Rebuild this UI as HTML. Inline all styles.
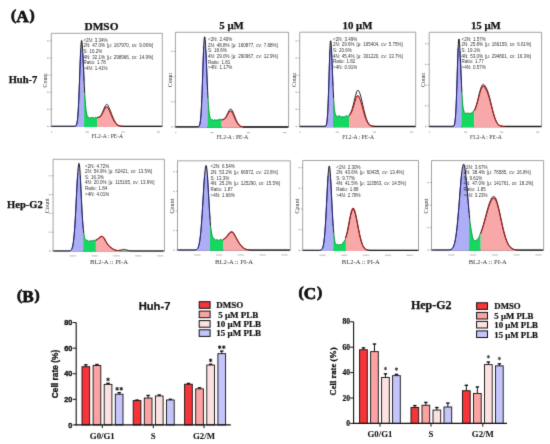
<!DOCTYPE html>
<html><head><meta charset="utf-8"><style>
html,body{margin:0;padding:0;background:#fff;}
svg{display:block;will-change:transform;}
</style></head><body>
<svg width="550" height="444" viewBox="0 0 550 444">
<defs><filter id="soft" filterUnits="userSpaceOnUse" x="0" y="0" width="550" height="444" color-interpolation-filters="sRGB"><feConvolveMatrix order="3" kernelMatrix="0.0113 0.0838 0.0113 0.0838 0.6193 0.0838 0.0113 0.0838 0.0113" edgeMode="duplicate"/></filter></defs>
<rect width="550" height="444" fill="#fff"/>
<g filter="url(#soft)">
<rect width="550" height="444" fill="#fff"/>
<text x="11.40" y="21.60" font-family="'Liberation Serif', serif" font-weight="bold" fill="#111" stroke="#111" stroke-width="0.75"><tspan font-size="15.5" dy="-1.9" dx="-0.5">(</tspan><tspan font-size="17.2" dy="1.9" dx="0.2">A</tspan><tspan font-size="15.5" dy="-1.9" dx="0.7">)</tspan></text>
<text x="101.50" y="29.90" font-family="'Liberation Serif', serif" font-size="11.3" font-weight="bold" text-anchor="middle" fill="#111" stroke="#111" stroke-width="0.25" >DMSO</text>
<text x="231.50" y="29.00" font-family="'Liberation Serif', serif" font-size="10.8" font-weight="bold" text-anchor="middle" fill="#111" stroke="#111" stroke-width="0.25" >5 μM</text>
<text x="357.50" y="29.00" font-family="'Liberation Serif', serif" font-size="10.8" font-weight="bold" text-anchor="middle" fill="#111" stroke="#111" stroke-width="0.25" >10 μM</text>
<text x="485.80" y="29.00" font-family="'Liberation Serif', serif" font-size="10.8" font-weight="bold" text-anchor="middle" fill="#111" stroke="#111" stroke-width="0.25" >15 μM</text>
<text x="8.70" y="83.10" font-family="'Liberation Serif', serif" font-size="10.5" font-weight="bold" text-anchor="start" fill="#111" stroke="#111" stroke-width="0.25" >Huh-7</text>
<text x="7.10" y="207.70" font-family="'Liberation Serif', serif" font-size="10.5" font-weight="bold" text-anchor="start" fill="#111" stroke="#111" stroke-width="0.25" >Hep-G2</text>
<path d="M51.3,126.4V33.3H162.3V126.4" fill="none" stroke="#9a9a9a" stroke-width="0.9"/>
<line x1="51.3" y1="126.4" x2="162.3" y2="126.4" stroke="#2a2a2a" stroke-width="1.3"/>
<path d="M52.30,126.40L52.70,126.40L53.11,126.40L53.51,126.40L53.91,126.40L54.31,126.40L54.72,126.40L55.12,126.40L55.52,126.40L55.92,126.40L56.33,126.40L56.73,126.40L57.13,126.40L57.53,126.40L57.94,126.40L58.34,126.40L58.74,126.40L59.14,126.40L59.55,126.40L59.95,126.40L60.35,126.40L60.75,126.40L61.16,126.40L61.56,126.40L61.96,126.40L62.36,126.40L62.77,126.40L63.17,126.40L63.57,126.40L63.97,126.40L64.38,126.40L64.78,126.40L65.18,126.40L65.58,126.40L65.99,126.40L66.39,126.40L66.79,126.40L67.19,126.40L67.60,126.40L68.00,126.40L68.40,126.40L68.80,126.40L69.21,126.40L69.61,126.40L70.01,126.40L70.41,126.40L70.82,126.40L71.22,126.40L71.62,126.40L72.02,126.40L72.43,126.40L72.83,126.40L73.23,126.40L73.63,126.39L74.04,126.39L74.44,126.36L74.84,126.31L75.24,126.21L75.65,125.99L76.05,125.57L76.45,124.79L76.85,123.46L77.26,121.28L77.66,117.92L78.06,113.03L78.46,106.36L78.87,97.81L79.27,87.60L79.67,76.30L80.07,64.84L80.48,54.41L80.88,46.26L81.28,41.44L81.68,40.49L82.09,42.68L82.49,47.54L82.89,54.52L83.29,63.00L83.70,72.20L84.10,81.22L84.10,127.10L52.30,127.10Z" fill="#aeaef6"/>
<path d="M84.10,81.22L84.50,89.30L84.91,96.18L85.31,102.15L85.71,106.86L86.12,110.47L86.52,113.10L86.92,115.03L87.32,116.45L87.73,117.19L88.13,117.10L88.53,116.93L88.94,117.85L89.34,118.71L89.74,118.37L90.15,117.82L90.55,117.59L90.95,117.54L91.36,117.53L91.76,117.60L92.16,117.62L92.57,117.42L92.97,117.21L93.37,117.49L93.78,117.81L94.18,117.92L94.58,117.95L94.98,117.79L95.39,117.41L95.79,117.22L96.19,117.67L96.60,118.11L97.00,117.68L97.00,127.10L84.10,127.10Z" fill="#14d862"/>
<path d="M97.00,117.84L97.40,117.78L97.80,117.70L98.19,117.60L98.59,117.47L98.99,117.30L99.39,117.08L99.78,116.82L100.18,116.50L100.58,116.11L100.98,115.66L101.37,115.14L101.77,114.54L102.17,113.87L102.57,113.14L102.96,112.36L103.36,111.54L103.76,110.70L104.16,109.88L104.55,109.10L104.95,108.38L105.35,107.77L105.75,107.29L106.14,106.98L106.54,106.84L106.94,106.89L107.34,107.14L107.73,107.58L108.13,108.19L108.53,108.89L108.93,109.68L109.32,110.52L109.72,111.41L110.12,112.33L110.52,113.26L110.92,114.19L111.31,115.11L111.71,116.02L112.11,116.91L112.51,117.77L112.90,118.60L113.30,119.40L113.70,120.15L114.10,120.87L114.49,121.53L114.89,122.15L115.29,122.72L115.69,123.23L116.08,123.70L116.48,124.11L116.88,124.47L117.28,124.79L117.67,125.07L118.07,125.31L118.47,125.51L118.87,125.68L119.26,125.82L119.66,125.94L120.06,126.04L120.46,126.12L120.85,126.18L121.25,126.23L121.65,126.27L121.65,127.10L97.00,127.10Z" fill="#f8a8a8"/>
<path d="M52.30,126.40L52.70,126.40L53.10,126.40L53.50,126.40L53.90,126.40L54.30,126.40L54.70,126.40L55.10,126.40L55.50,126.40L55.90,126.40L56.30,126.40L56.70,126.40L57.10,126.40L57.50,126.40L57.90,126.40L58.30,126.40L58.70,126.40L59.10,126.40L59.50,126.40L59.90,126.40L60.30,126.40L60.70,126.40L61.10,126.40L61.50,126.40L61.90,126.40L62.30,126.40L62.70,126.40L63.10,126.40L63.50,126.40L63.90,126.40L64.30,126.40L64.70,126.40L65.10,126.40L65.50,126.40L65.90,126.40L66.30,126.40L66.70,126.40L67.10,126.40L67.50,126.40L67.90,126.40L68.30,126.40L68.70,126.40L69.10,126.40L69.50,126.40L69.90,126.40L70.30,126.40L70.70,126.40L71.10,126.40L71.50,126.40L71.90,126.40L72.30,126.40L72.70,126.40L73.10,126.40L73.50,126.40L73.90,126.39L74.30,126.37L74.70,126.34L75.10,126.25L75.50,126.09L75.90,125.75L76.30,125.14L76.70,124.06L77.10,122.25L77.50,119.41L77.90,115.20L78.30,109.31L78.70,101.58L79.10,92.08L79.50,81.22L79.90,69.76L80.30,58.80L80.70,49.54L81.10,43.16L81.50,40.47L81.90,41.31L82.30,44.95L82.70,50.96L83.10,58.71L83.50,67.66L83.90,76.82L84.30,85.37L84.70,92.81" fill="none" stroke="#111" stroke-width="0.95"/>
<path d="M96.70,118.01L97.10,117.57L97.50,117.11L97.90,117.27L98.30,117.33L98.69,117.32L99.09,117.11L99.49,116.84L99.89,116.52L100.29,116.12L100.69,115.64L101.09,115.08L101.49,114.44L101.88,113.71L102.28,112.89L102.68,112.00L103.08,111.05L103.48,110.07L103.88,109.06L104.28,108.07L104.68,107.13L105.07,106.28L105.47,105.55L105.87,104.98L106.27,104.59L106.67,104.41L107.07,104.45L107.47,104.72L107.87,105.21L108.26,105.87L108.66,106.64L109.06,107.50L109.46,108.43L109.86,109.42L110.26,110.44L110.66,111.48L111.06,112.54L111.45,113.59L111.85,114.63L112.25,115.64L112.65,116.64L113.05,117.59L113.45,118.51L113.85,119.38L114.25,120.20L114.64,120.96L115.04,121.66L115.44,122.31L115.84,122.89L116.24,123.42L116.64,123.88L117.04,124.29L117.44,124.65L117.83,124.95L118.23,125.22L118.63,125.44L119.03,125.63L119.43,125.78L119.83,125.91L120.23,126.01L120.63,126.10L121.02,126.17L121.42,126.22L121.82,126.26L122.22,126.30L122.62,126.32L123.02,126.34L123.42,126.36L123.82,126.37L124.21,126.38L124.61,126.38L125.01,126.39L125.41,126.39L125.81,126.39L126.21,126.40L126.61,126.40L127.01,126.40L127.40,126.40L127.80,126.40L128.20,126.40L128.60,126.40L129.00,126.40L129.40,126.40L129.80,126.40L130.20,126.40L130.60,126.40L130.99,126.40L131.39,126.40L131.79,126.40L132.19,126.40L132.59,126.40L132.99,126.40L133.39,126.40L133.79,126.40L134.18,126.40L134.58,126.40L134.98,126.40L135.38,126.40L135.78,126.40L136.18,126.40L136.58,126.40L136.98,126.40L137.37,126.40L137.77,126.40L138.17,126.40L138.57,126.40L138.97,126.40L139.37,126.40L139.77,126.40L140.17,126.40L140.56,126.40L140.96,126.40L141.36,126.40L141.76,126.40L142.16,126.40L142.56,126.40L142.96,126.40L143.36,126.40L143.75,126.40L144.15,126.40L144.55,126.40L144.95,126.40L145.35,126.40L145.75,126.40L146.15,126.40L146.55,126.40L146.94,126.40L147.34,126.40L147.74,126.40L148.14,126.40L148.54,126.40L148.94,126.40L149.34,126.40L149.74,126.40L150.13,126.40L150.53,126.40L150.93,126.40L151.33,126.40L151.73,126.40L152.13,126.40L152.53,126.40L152.93,126.40L153.32,126.40L153.72,126.40L154.12,126.40L154.52,126.40L154.92,126.40L155.32,126.40L155.72,126.40L156.12,126.40L156.51,126.40L156.91,126.40L157.31,126.40L157.71,126.40L158.11,126.40L158.51,126.40L158.91,126.40L159.31,126.40L159.70,126.40L160.10,126.40L160.50,126.40L160.90,126.40L161.30,126.40" fill="none" stroke="#111" stroke-width="0.95"/>
<path d="M84.70,92.81L85.10,99.21L85.50,104.53L85.90,108.66L86.30,111.78L86.70,114.01L87.10,115.72L87.50,116.92L87.90,117.18L88.30,117.00L88.70,117.32L89.10,118.20L89.50,118.70L89.90,118.16L90.30,117.61L90.70,117.57L91.10,117.52L91.50,117.56L91.90,117.62L92.30,117.55L92.70,117.35L93.10,117.27L93.50,117.59L93.90,117.90L94.30,117.93L94.70,117.96L95.10,117.68L95.50,117.30L95.90,117.34L96.30,117.79L96.70,118.01" fill="none" stroke="#0b8a34" stroke-width="0.9"/>
<path d="M75.30,126.18L75.72,125.93L76.13,125.44L76.55,124.54L76.96,122.98L77.38,120.42L77.79,116.49L78.21,110.83L78.62,103.21L79.04,93.64L79.45,82.52L79.87,70.64L80.28,59.20L80.70,49.54" fill="none" stroke="#22229a" stroke-width="0.8"/>
<path d="M82.86,53.89L83.27,62.52L83.69,71.95L84.10,81.22" fill="none" stroke="#22229a" stroke-width="0.7"/>
<path d="M97.00,117.84L97.40,117.78L97.80,117.70L98.19,117.60L98.59,117.47L98.99,117.30L99.39,117.08L99.78,116.82L100.18,116.50L100.58,116.11L100.98,115.66L101.37,115.14L101.77,114.54L102.17,113.87L102.57,113.14L102.96,112.36L103.36,111.54L103.76,110.70L104.16,109.88L104.55,109.10L104.95,108.38L105.35,107.77L105.75,107.29L106.14,106.98L106.54,106.84L106.94,106.89L107.34,107.14L107.73,107.58L108.13,108.19L108.53,108.89L108.93,109.68L109.32,110.52L109.72,111.41L110.12,112.33L110.52,113.26L110.92,114.19L111.31,115.11L111.71,116.02L112.11,116.91L112.51,117.77L112.90,118.60L113.30,119.40L113.70,120.15L114.10,120.87L114.49,121.53L114.89,122.15L115.29,122.72L115.69,123.23L116.08,123.70L116.48,124.11L116.88,124.47L117.28,124.79L117.67,125.07L118.07,125.31L118.47,125.51L118.87,125.68L119.26,125.82L119.66,125.94L120.06,126.04L120.46,126.12L120.85,126.18L121.25,126.23L121.65,126.27" fill="none" stroke="#a01818" stroke-width="1.05"/>
<line x1="49.8" y1="126.40" x2="51.3" y2="126.40" stroke="#777" stroke-width="0.6"/>
<rect x="47.099999999999994" y="125.80" width="1.5" height="1.2" fill="#aaa"/>
<line x1="49.8" y1="109.30" x2="51.3" y2="109.30" stroke="#777" stroke-width="0.6"/>
<rect x="47.099999999999994" y="108.70" width="1.5" height="1.2" fill="#aaa"/>
<line x1="49.8" y1="92.20" x2="51.3" y2="92.20" stroke="#777" stroke-width="0.6"/>
<rect x="47.099999999999994" y="91.60" width="1.5" height="1.2" fill="#aaa"/>
<line x1="49.8" y1="75.10" x2="51.3" y2="75.10" stroke="#777" stroke-width="0.6"/>
<rect x="47.099999999999994" y="74.50" width="1.5" height="1.2" fill="#aaa"/>
<line x1="49.8" y1="58.00" x2="51.3" y2="58.00" stroke="#777" stroke-width="0.6"/>
<rect x="47.099999999999994" y="57.40" width="1.5" height="1.2" fill="#aaa"/>
<line x1="49.8" y1="40.90" x2="51.3" y2="40.90" stroke="#777" stroke-width="0.6"/>
<rect x="47.099999999999994" y="40.30" width="1.5" height="1.2" fill="#aaa"/>
<text x="0" y="0" transform="translate(47.40,80.25) rotate(-90)" font-family="'Liberation Serif', serif" font-size="5.85" text-anchor="middle" fill="#333">Count</text>
<rect x="50.90" y="131.40" width="1.4" height="1.2" fill="#bdbdbd"/>
<rect x="85.63" y="131.40" width="3.2" height="1.2" fill="#bdbdbd"/>
<rect x="121.26" y="131.40" width="3.2" height="1.2" fill="#bdbdbd"/>
<rect x="156.89" y="131.40" width="3.2" height="1.2" fill="#bdbdbd"/>
<text x="107.30" y="138.40" font-family="'Liberation Serif', serif" font-size="5.6" text-anchor="middle" fill="#333">FL2-A : PE-A</text>
<text transform="translate(83.40,41.60) scale(1.0)" font-family="'Liberation Sans', sans-serif" font-size="4.50" word-spacing="0.50" fill="#333">&lt;2N: 3.34%</text>
<text transform="translate(83.40,47.25) scale(1.0)" font-family="'Liberation Sans', sans-serif" font-size="4.50" word-spacing="0.50" fill="#333">2N: 47.0%</text>
<text transform="translate(83.40,52.90) scale(1.0)" font-family="'Liberation Sans', sans-serif" font-size="4.50" word-spacing="0.50" fill="#333">S: 16.2%</text>
<text transform="translate(83.40,58.55) scale(1.0)" font-family="'Liberation Sans', sans-serif" font-size="4.50" word-spacing="0.50" fill="#333">4N: 32.1%</text>
<text transform="translate(83.40,64.20) scale(1.0)" font-family="'Liberation Sans', sans-serif" font-size="4.50" word-spacing="0.50" fill="#333">Ratio: 1.78</text>
<text transform="translate(83.40,69.85) scale(1.0)" font-family="'Liberation Sans', sans-serif" font-size="4.50" word-spacing="0.50" fill="#333">&gt;4N: 1.41%</text>
<text transform="translate(106.90,47.25) scale(1.0)" font-family="'Liberation Sans', sans-serif" font-size="4.50" word-spacing="0.50" fill="#333">[μ: 167970, cv: 9.06%]</text>
<text transform="translate(106.90,58.55) scale(1.0)" font-family="'Liberation Sans', sans-serif" font-size="4.50" word-spacing="0.50" fill="#333">[μ: 298966, cv: 14.9%]</text>
<path d="M175.4,127.0V32.3H288.6V127.0" fill="none" stroke="#9a9a9a" stroke-width="0.9"/>
<line x1="175.4" y1="127.0" x2="288.6" y2="127.0" stroke="#2a2a2a" stroke-width="1.3"/>
<path d="M176.40,127.00L176.80,127.00L177.19,127.00L177.59,127.00L177.99,127.00L178.39,127.00L178.78,127.00L179.18,127.00L179.58,127.00L179.98,127.00L180.37,127.00L180.77,127.00L181.17,127.00L181.57,127.00L181.96,127.00L182.36,127.00L182.76,127.00L183.16,127.00L183.55,127.00L183.95,127.00L184.35,127.00L184.75,127.00L185.14,127.00L185.54,127.00L185.94,127.00L186.34,127.00L186.73,127.00L187.13,127.00L187.53,127.00L187.93,127.00L188.32,127.00L188.72,127.00L189.12,127.00L189.52,127.00L189.91,127.00L190.31,127.00L190.71,127.00L191.11,127.00L191.50,127.00L191.90,127.00L192.30,127.00L192.69,127.00L193.09,127.00L193.49,127.00L193.89,127.00L194.28,127.00L194.68,127.00L195.08,127.00L195.48,127.00L195.87,127.00L196.27,127.00L196.67,126.99L197.07,126.98L197.46,126.96L197.86,126.91L198.26,126.81L198.66,126.59L199.05,126.17L199.45,125.41L199.85,124.09L200.25,121.95L200.64,118.62L201.04,113.78L201.44,107.13L201.84,98.55L202.23,88.20L202.63,76.59L203.03,64.60L203.43,53.41L203.82,44.30L204.22,38.41L204.62,36.50L205.02,38.09L205.41,42.55L205.81,49.40L206.21,57.94L206.61,67.45L207.00,77.20L207.40,86.41L207.40,127.70L176.40,127.70Z" fill="#aeaef6"/>
<path d="M207.40,86.41L207.81,94.59L208.21,101.34L208.62,107.27L209.02,111.87L209.43,114.86L209.83,116.80L210.24,118.08L210.65,118.87L211.05,119.33L211.46,119.59L211.86,119.71L212.27,119.77L212.67,119.78L213.08,120.19L213.49,120.62L213.89,120.35L214.30,119.82L214.70,119.67L215.11,119.91L215.51,120.07L215.92,120.04L216.33,120.02L216.73,120.01L217.14,120.00L217.54,120.02L217.95,120.04L218.35,119.88L218.76,119.61L219.17,119.42L219.57,119.33L219.98,119.25L220.38,119.21L220.79,119.16L221.19,119.59L221.60,120.02L221.60,127.70L207.40,127.70Z" fill="#14d862"/>
<path d="M221.60,119.86L222.00,119.80L222.40,119.72L222.80,119.62L223.20,119.48L223.60,119.31L224.00,119.09L224.41,118.83L224.81,118.50L225.21,118.11L225.61,117.66L226.01,117.13L226.41,116.55L226.81,115.90L227.21,115.21L227.61,114.50L228.01,113.78L228.41,113.08L228.81,112.43L229.21,111.87L229.61,111.43L230.02,111.12L230.42,110.98L230.82,111.02L231.22,111.24L231.62,111.63L232.02,112.19L232.42,112.86L232.82,113.62L233.22,114.46L233.62,115.34L234.02,116.25L234.42,117.17L234.82,118.09L235.23,118.99L235.63,119.86L236.03,120.69L236.43,121.47L236.83,122.21L237.23,122.88L237.63,123.50L238.03,124.05L238.43,124.54L238.83,124.98L239.23,125.35L239.63,125.67L240.03,125.94L240.43,126.16L240.84,126.35L241.24,126.50L241.64,126.61L242.04,126.71L242.44,126.78L242.84,126.84L243.24,126.88L243.24,127.70L221.60,127.70Z" fill="#f8a8a8"/>
<path d="M176.40,127.00L176.80,127.00L177.20,127.00L177.60,127.00L178.00,127.00L178.40,127.00L178.80,127.00L179.20,127.00L179.60,127.00L180.00,127.00L180.40,127.00L180.80,127.00L181.20,127.00L181.60,127.00L182.00,127.00L182.40,127.00L182.80,127.00L183.20,127.00L183.60,127.00L184.00,127.00L184.40,127.00L184.80,127.00L185.20,127.00L185.60,127.00L186.00,127.00L186.40,127.00L186.80,127.00L187.20,127.00L187.60,127.00L188.00,127.00L188.40,127.00L188.80,127.00L189.20,127.00L189.60,127.00L190.00,127.00L190.40,127.00L190.80,127.00L191.20,127.00L191.60,127.00L192.00,127.00L192.40,127.00L192.80,127.00L193.20,127.00L193.60,127.00L194.00,127.00L194.40,127.00L194.80,127.00L195.20,127.00L195.60,127.00L196.00,127.00L196.40,127.00L196.80,126.99L197.20,126.98L197.60,126.95L198.00,126.88L198.40,126.74L198.80,126.47L199.20,125.94L199.60,125.00L200.00,123.39L200.40,120.82L200.80,116.92L201.20,111.35L201.60,103.88L202.00,94.47L202.40,83.44L202.80,71.47L203.20,59.59L203.60,49.08L204.00,41.22L204.40,37.03L204.80,36.85L205.20,39.83L205.60,45.52L206.00,53.31L206.40,62.44L206.80,72.26L207.20,81.89L207.60,90.61L208.00,97.99" fill="none" stroke="#111" stroke-width="0.95"/>
<path d="M221.30,119.71L221.70,120.12L222.10,119.90L222.50,119.65L222.90,119.49L223.30,119.33L223.70,119.13L224.10,118.87L224.50,118.54L224.89,118.14L225.29,117.67L225.69,117.11L226.09,116.48L226.49,115.77L226.89,115.00L227.29,114.18L227.69,113.32L228.09,112.46L228.49,111.62L228.89,110.85L229.29,110.17L229.69,109.62L230.09,109.23L230.49,109.03L230.89,109.02L231.28,109.23L231.68,109.64L232.08,110.22L232.48,110.94L232.88,111.77L233.28,112.68L233.68,113.66L234.08,114.68L234.48,115.71L234.88,116.75L235.28,117.77L235.68,118.77L236.08,119.72L236.48,120.62L236.88,121.47L237.28,122.25L237.68,122.96L238.07,123.60L238.47,124.17L238.87,124.67L239.27,125.10L239.67,125.47L240.07,125.78L240.47,126.04L240.87,126.25L241.27,126.42L241.67,126.56L242.07,126.67L242.47,126.75L242.87,126.82L243.27,126.87L243.67,126.90L244.07,126.93L244.47,126.95L244.86,126.97L245.26,126.98L245.66,126.98L246.06,126.99L246.46,126.99L246.86,127.00L247.26,127.00L247.66,127.00L248.06,127.00L248.46,127.00L248.86,127.00L249.26,127.00L249.66,127.00L250.06,127.00L250.46,127.00L250.86,127.00L251.25,127.00L251.65,127.00L252.05,127.00L252.45,127.00L252.85,127.00L253.25,127.00L253.65,127.00L254.05,127.00L254.45,127.00L254.85,127.00L255.25,127.00L255.65,127.00L256.05,127.00L256.45,127.00L256.85,127.00L257.25,127.00L257.65,127.00L258.04,127.00L258.44,127.00L258.84,127.00L259.24,127.00L259.64,127.00L260.04,127.00L260.44,127.00L260.84,127.00L261.24,127.00L261.64,127.00L262.04,127.00L262.44,127.00L262.84,127.00L263.24,127.00L263.64,127.00L264.04,127.00L264.43,127.00L264.83,127.00L265.23,127.00L265.63,127.00L266.03,127.00L266.43,127.00L266.83,127.00L267.23,127.00L267.63,127.00L268.03,127.00L268.43,127.00L268.83,127.00L269.23,127.00L269.63,127.00L270.03,127.00L270.43,127.00L270.83,127.00L271.22,127.00L271.62,127.00L272.02,127.00L272.42,127.00L272.82,127.00L273.22,127.00L273.62,127.00L274.02,127.00L274.42,127.00L274.82,127.00L275.22,127.00L275.62,127.00L276.02,127.00L276.42,127.00L276.82,127.00L277.22,127.00L277.62,127.00L278.01,127.00L278.41,127.00L278.81,127.00L279.21,127.00L279.61,127.00L280.01,127.00L280.41,127.00L280.81,127.00L281.21,127.00L281.61,127.00L282.01,127.00L282.41,127.00L282.81,127.00L283.21,127.00L283.61,127.00L284.01,127.00L284.40,127.00L284.80,127.00L285.20,127.00L285.60,127.00L286.00,127.00L286.40,127.00L286.80,127.00L287.20,127.00L287.60,127.00" fill="none" stroke="#111" stroke-width="0.95"/>
<path d="M208.00,97.99L208.40,104.31L208.81,109.57L209.21,113.43L209.61,115.84L210.02,117.43L210.42,118.48L210.82,119.09L211.22,119.46L211.63,119.65L212.03,119.74L212.43,119.78L212.84,119.93L213.24,120.36L213.64,120.68L214.05,120.15L214.45,119.62L214.85,119.76L215.25,119.99L215.66,120.06L216.06,120.04L216.46,120.02L216.87,120.01L217.27,120.00L217.67,120.02L218.08,120.04L218.48,119.80L218.88,119.53L219.28,119.39L219.69,119.31L220.09,119.24L220.49,119.20L220.90,119.27L221.30,119.71" fill="none" stroke="#0b8a34" stroke-width="0.9"/>
<path d="M198.40,126.74L198.81,126.46L199.22,125.91L199.62,124.92L200.03,123.23L200.44,120.51L200.85,116.37L201.25,110.46L201.66,102.55L202.07,92.66L202.48,81.18L202.88,68.91L203.29,57.00L203.70,46.82" fill="none" stroke="#22229a" stroke-width="0.8"/>
<path d="M205.86,50.39L206.25,58.80L206.63,68.07L207.01,77.50L207.40,86.41" fill="none" stroke="#22229a" stroke-width="0.7"/>
<path d="M221.60,119.86L222.00,119.80L222.40,119.72L222.80,119.62L223.20,119.48L223.60,119.31L224.00,119.09L224.41,118.83L224.81,118.50L225.21,118.11L225.61,117.66L226.01,117.13L226.41,116.55L226.81,115.90L227.21,115.21L227.61,114.50L228.01,113.78L228.41,113.08L228.81,112.43L229.21,111.87L229.61,111.43L230.02,111.12L230.42,110.98L230.82,111.02L231.22,111.24L231.62,111.63L232.02,112.19L232.42,112.86L232.82,113.62L233.22,114.46L233.62,115.34L234.02,116.25L234.42,117.17L234.82,118.09L235.23,118.99L235.63,119.86L236.03,120.69L236.43,121.47L236.83,122.21L237.23,122.88L237.63,123.50L238.03,124.05L238.43,124.54L238.83,124.98L239.23,125.35L239.63,125.67L240.03,125.94L240.43,126.16L240.84,126.35L241.24,126.50L241.64,126.61L242.04,126.71L242.44,126.78L242.84,126.84L243.24,126.88" fill="none" stroke="#a01818" stroke-width="1.05"/>
<line x1="173.9" y1="127.00" x2="175.4" y2="127.00" stroke="#777" stroke-width="0.6"/>
<rect x="171.20000000000002" y="126.40" width="1.5" height="1.2" fill="#aaa"/>
<line x1="173.9" y1="101.80" x2="175.4" y2="101.80" stroke="#777" stroke-width="0.6"/>
<rect x="171.20000000000002" y="101.20" width="1.5" height="1.2" fill="#aaa"/>
<line x1="173.9" y1="76.60" x2="175.4" y2="76.60" stroke="#777" stroke-width="0.6"/>
<rect x="171.20000000000002" y="76.00" width="1.5" height="1.2" fill="#aaa"/>
<line x1="173.9" y1="51.40" x2="175.4" y2="51.40" stroke="#777" stroke-width="0.6"/>
<rect x="171.20000000000002" y="50.80" width="1.5" height="1.2" fill="#aaa"/>
<text x="0" y="0" transform="translate(171.50,80.05) rotate(-90)" font-family="'Liberation Serif', serif" font-size="5.85" text-anchor="middle" fill="#333">Count</text>
<rect x="175.00" y="132.00" width="1.4" height="1.2" fill="#bdbdbd"/>
<rect x="210.44" y="132.00" width="3.2" height="1.2" fill="#bdbdbd"/>
<rect x="246.77" y="132.00" width="3.2" height="1.2" fill="#bdbdbd"/>
<rect x="283.11" y="132.00" width="3.2" height="1.2" fill="#bdbdbd"/>
<text x="232.50" y="139.00" font-family="'Liberation Serif', serif" font-size="5.6" text-anchor="middle" fill="#333">FL2-A : PE-A</text>
<text transform="translate(208.00,40.90) scale(1.0)" font-family="'Liberation Sans', sans-serif" font-size="4.50" word-spacing="0.50" fill="#333">&lt;2N: 2.40%</text>
<text transform="translate(208.00,46.55) scale(1.0)" font-family="'Liberation Sans', sans-serif" font-size="4.50" word-spacing="0.50" fill="#333">2N: 48.8%</text>
<text transform="translate(208.00,52.20) scale(1.0)" font-family="'Liberation Sans', sans-serif" font-size="4.50" word-spacing="0.50" fill="#333">S: 18.6%</text>
<text transform="translate(208.00,57.85) scale(1.0)" font-family="'Liberation Sans', sans-serif" font-size="4.50" word-spacing="0.50" fill="#333">4N: 29.0%</text>
<text transform="translate(208.00,63.50) scale(1.0)" font-family="'Liberation Sans', sans-serif" font-size="4.50" word-spacing="0.50" fill="#333">Ratio: 1.81</text>
<text transform="translate(208.00,69.15) scale(1.0)" font-family="'Liberation Sans', sans-serif" font-size="4.50" word-spacing="0.50" fill="#333">&gt;4N: 1.17%</text>
<text transform="translate(231.50,46.55) scale(1.0)" font-family="'Liberation Sans', sans-serif" font-size="4.50" word-spacing="0.50" fill="#333">[μ: 160877, cv: 7.88%]</text>
<text transform="translate(231.50,57.85) scale(1.0)" font-family="'Liberation Sans', sans-serif" font-size="4.50" word-spacing="0.50" fill="#333">[μ: 290967, cv: 12.9%]</text>
<path d="M299.7,126.5V32.2H415.7V126.5" fill="none" stroke="#9a9a9a" stroke-width="0.9"/>
<line x1="299.7" y1="126.5" x2="415.7" y2="126.5" stroke="#2a2a2a" stroke-width="1.3"/>
<path d="M300.70,126.50L301.10,126.50L301.50,126.50L301.90,126.50L302.30,126.50L302.69,126.50L303.09,126.50L303.49,126.50L303.89,126.50L304.29,126.50L304.69,126.50L305.09,126.50L305.49,126.50L305.88,126.50L306.28,126.50L306.68,126.50L307.08,126.50L307.48,126.50L307.88,126.50L308.28,126.50L308.68,126.50L309.07,126.50L309.47,126.50L309.87,126.50L310.27,126.50L310.67,126.50L311.07,126.50L311.47,126.50L311.87,126.50L312.26,126.50L312.66,126.50L313.06,126.50L313.46,126.50L313.86,126.50L314.26,126.50L314.66,126.50L315.06,126.50L315.45,126.50L315.85,126.50L316.25,126.50L316.65,126.50L317.05,126.50L317.45,126.50L317.85,126.50L318.25,126.50L318.64,126.50L319.04,126.50L319.44,126.50L319.84,126.50L320.24,126.50L320.64,126.50L321.04,126.50L321.44,126.50L321.83,126.50L322.23,126.50L322.63,126.50L323.03,126.50L323.43,126.50L323.83,126.50L324.23,126.49L324.63,126.47L325.02,126.41L325.42,126.26L325.82,125.92L326.22,125.21L326.62,123.82L327.02,121.30L327.42,117.09L327.82,110.64L328.21,101.58L328.61,90.01L329.01,76.70L329.41,63.14L329.81,51.30L330.21,43.24L330.61,40.40L331.01,42.18L331.40,47.54L331.80,55.69L332.20,65.59L332.60,76.05L333.00,85.93L333.00,127.20L300.70,127.20Z" fill="#aeaef6"/>
<path d="M333.00,85.93L333.40,94.59L333.80,101.54L334.20,106.77L334.60,110.48L335.00,112.83L335.40,114.21L335.80,115.10L336.20,115.73L336.60,116.12L337.00,116.46L337.40,116.71L337.80,116.39L338.20,116.04L338.60,115.95L339.00,115.95L339.40,116.05L339.80,116.26L340.20,116.40L340.60,116.37L341.00,116.34L341.40,116.91L341.80,117.48L342.20,117.11L342.60,116.44L343.00,116.40L343.40,116.99L343.80,117.34L344.20,116.97L344.60,116.60L345.00,116.42L345.40,116.22L345.80,116.03L346.20,115.84L346.60,115.84L347.00,116.01L347.40,116.17L347.80,116.33L348.20,116.45L348.60,116.13L349.00,115.75L349.00,127.20L333.00,127.20Z" fill="#14d862"/>
<path d="M349.00,115.52L349.40,115.17L349.81,114.74L350.21,114.24L350.61,113.64L351.01,112.94L351.42,112.14L351.82,111.23L352.22,110.21L352.63,109.09L353.03,107.88L353.43,106.58L353.84,105.23L354.24,103.85L354.64,102.46L355.05,101.11L355.45,99.83L355.85,98.66L356.25,97.65L356.66,96.81L357.06,96.20L357.46,95.83L357.87,95.72L358.27,95.87L358.67,96.30L359.07,96.96L359.48,97.81L359.88,98.81L360.28,99.96L360.69,101.22L361.09,102.57L361.49,103.98L361.90,105.45L362.30,106.94L362.70,108.44L363.11,109.93L363.51,111.39L363.91,112.82L364.31,114.19L364.72,115.50L365.12,116.74L365.52,117.90L365.93,118.98L366.33,119.97L366.73,120.87L367.13,121.69L367.54,122.41L367.94,123.06L368.34,123.62L368.75,124.11L369.15,124.53L369.55,124.89L369.96,125.20L370.36,125.45L370.76,125.66L371.17,125.84L371.57,125.98L371.97,126.09L372.37,126.18L372.78,126.26L373.18,126.31L373.18,127.20L349.00,127.20Z" fill="#f8a8a8"/>
<path d="M300.70,126.50L301.10,126.50L301.50,126.50L301.90,126.50L302.30,126.50L302.71,126.50L303.11,126.50L303.51,126.50L303.91,126.50L304.31,126.50L304.71,126.50L305.11,126.50L305.51,126.50L305.92,126.50L306.32,126.50L306.72,126.50L307.12,126.50L307.52,126.50L307.92,126.50L308.32,126.50L308.72,126.50L309.13,126.50L309.53,126.50L309.93,126.50L310.33,126.50L310.73,126.50L311.13,126.50L311.53,126.50L311.93,126.50L312.34,126.50L312.74,126.50L313.14,126.50L313.54,126.50L313.94,126.50L314.34,126.50L314.74,126.50L315.14,126.50L315.55,126.50L315.95,126.50L316.35,126.50L316.75,126.50L317.15,126.50L317.55,126.50L317.95,126.50L318.35,126.50L318.75,126.50L319.16,126.50L319.56,126.50L319.96,126.50L320.36,126.50L320.76,126.50L321.16,126.50L321.56,126.50L321.96,126.50L322.37,126.50L322.77,126.50L323.17,126.50L323.57,126.50L323.97,126.49L324.37,126.48L324.77,126.45L325.17,126.37L325.58,126.16L325.98,125.71L326.38,124.77L326.78,122.98L327.18,119.82L327.58,114.73L327.98,107.17L328.38,96.95L328.79,84.42L329.19,70.70L329.59,57.55L329.99,47.11L330.39,41.24L330.79,40.74L331.19,44.28L331.59,51.12L332.00,60.26L332.40,70.69L332.80,81.03L333.20,90.42L333.60,98.28" fill="none" stroke="#111" stroke-width="0.95"/>
<path d="M348.70,116.04L349.10,115.65L349.50,115.07L349.90,114.34L350.30,113.71L350.70,112.91L351.10,111.90L351.50,110.90L351.90,109.77L352.30,108.50L352.70,107.12L353.10,105.62L353.50,104.03L353.90,102.37L354.30,100.67L354.70,98.96L355.10,97.29L355.50,95.70L355.90,94.24L356.30,92.96L356.70,91.89L357.10,91.07L357.50,90.54L357.90,90.31L358.30,90.40L358.70,90.80L359.10,91.49L359.50,92.39L359.90,93.50L360.30,94.77L360.70,96.19L361.10,97.74L361.50,99.37L361.90,101.08L362.30,102.83L362.70,104.59L363.10,106.36L363.50,108.11L363.90,109.81L364.30,111.46L364.70,113.04L365.10,114.54L365.50,115.95L365.90,117.25L366.30,118.46L366.70,119.56L367.10,120.55L367.50,121.44L367.90,122.23L368.30,122.92L368.70,123.52L369.10,124.04L369.50,124.48L369.90,124.86L370.30,125.18L370.70,125.44L371.10,125.66L371.50,125.84L371.90,125.98L372.30,126.10L372.70,126.19L373.10,126.26L373.50,126.32L373.90,126.36L374.30,126.40L374.70,126.42L375.10,126.44L375.50,126.46L375.90,126.47L376.30,126.48L376.70,126.48L377.10,126.49L377.50,126.49L377.90,126.49L378.30,126.50L378.70,126.50L379.10,126.50L379.50,126.50L379.90,126.50L380.30,126.50L380.70,126.50L381.10,126.50L381.50,126.50L381.90,126.50L382.30,126.50L382.70,126.50L383.10,126.50L383.50,126.50L383.90,126.50L384.30,126.50L384.70,126.50L385.10,126.50L385.50,126.50L385.90,126.50L386.30,126.50L386.70,126.50L387.10,126.50L387.50,126.50L387.90,126.50L388.30,126.50L388.70,126.50L389.10,126.50L389.50,126.50L389.90,126.50L390.30,126.50L390.70,126.50L391.10,126.50L391.50,126.50L391.90,126.50L392.30,126.50L392.70,126.50L393.10,126.50L393.50,126.50L393.90,126.50L394.30,126.50L394.70,126.50L395.10,126.50L395.50,126.50L395.90,126.50L396.30,126.50L396.70,126.50L397.10,126.50L397.50,126.50L397.90,126.50L398.30,126.50L398.70,126.50L399.10,126.50L399.50,126.50L399.90,126.50L400.30,126.50L400.70,126.50L401.10,126.50L401.50,126.50L401.90,126.50L402.30,126.50L402.70,126.50L403.10,126.50L403.50,126.50L403.90,126.50L404.30,126.50L404.70,126.50L405.10,126.50L405.50,126.50L405.90,126.50L406.30,126.50L406.70,126.50L407.10,126.50L407.50,126.50L407.90,126.50L408.30,126.50L408.70,126.50L409.10,126.50L409.50,126.50L409.90,126.50L410.30,126.50L410.70,126.50L411.10,126.50L411.50,126.50L411.90,126.50L412.30,126.50L412.70,126.50L413.10,126.50L413.50,126.50L413.90,126.50L414.30,126.50L414.70,126.50" fill="none" stroke="#111" stroke-width="0.95"/>
<path d="M333.60,98.28L334.00,104.32L334.39,108.75L334.79,111.77L335.19,113.58L335.59,114.61L335.98,115.43L336.38,115.92L336.78,116.29L337.18,116.58L337.57,116.57L337.97,116.24L338.37,115.95L338.77,115.95L339.16,115.95L339.56,116.13L339.96,116.34L340.36,116.39L340.75,116.36L341.15,116.55L341.55,117.12L341.94,117.55L342.34,116.87L342.74,116.20L343.14,116.60L343.53,117.19L343.93,117.22L344.33,116.85L344.73,116.54L345.12,116.36L345.52,116.16L345.92,115.98L346.32,115.78L346.71,115.89L347.11,116.06L347.51,116.22L347.91,116.37L348.30,116.37L348.70,116.04" fill="none" stroke="#0b8a34" stroke-width="0.9"/>
<path d="M325.30,126.32L325.71,126.04L326.13,125.43L326.54,124.17L326.95,121.80L327.37,117.72L327.78,111.29L328.20,102.08L328.61,90.16L329.02,76.34L329.44,62.31L329.85,50.29" fill="none" stroke="#22229a" stroke-width="0.8"/>
<path d="M331.68,52.93L332.12,63.45L332.56,74.98L333.00,85.93" fill="none" stroke="#22229a" stroke-width="0.7"/>
<path d="M349.00,115.52L349.40,115.17L349.81,114.74L350.21,114.24L350.61,113.64L351.01,112.94L351.42,112.14L351.82,111.23L352.22,110.21L352.63,109.09L353.03,107.88L353.43,106.58L353.84,105.23L354.24,103.85L354.64,102.46L355.05,101.11L355.45,99.83L355.85,98.66L356.25,97.65L356.66,96.81L357.06,96.20L357.46,95.83L357.87,95.72L358.27,95.87L358.67,96.30L359.07,96.96L359.48,97.81L359.88,98.81L360.28,99.96L360.69,101.22L361.09,102.57L361.49,103.98L361.90,105.45L362.30,106.94L362.70,108.44L363.11,109.93L363.51,111.39L363.91,112.82L364.31,114.19L364.72,115.50L365.12,116.74L365.52,117.90L365.93,118.98L366.33,119.97L366.73,120.87L367.13,121.69L367.54,122.41L367.94,123.06L368.34,123.62L368.75,124.11L369.15,124.53L369.55,124.89L369.96,125.20L370.36,125.45L370.76,125.66L371.17,125.84L371.57,125.98L371.97,126.09L372.37,126.18L372.78,126.26L373.18,126.31" fill="none" stroke="#a01818" stroke-width="1.05"/>
<line x1="298.2" y1="126.50" x2="299.7" y2="126.50" stroke="#777" stroke-width="0.6"/>
<rect x="295.5" y="125.90" width="1.5" height="1.2" fill="#aaa"/>
<line x1="298.2" y1="109.40" x2="299.7" y2="109.40" stroke="#777" stroke-width="0.6"/>
<rect x="295.5" y="108.80" width="1.5" height="1.2" fill="#aaa"/>
<line x1="298.2" y1="92.30" x2="299.7" y2="92.30" stroke="#777" stroke-width="0.6"/>
<rect x="295.5" y="91.70" width="1.5" height="1.2" fill="#aaa"/>
<line x1="298.2" y1="75.20" x2="299.7" y2="75.20" stroke="#777" stroke-width="0.6"/>
<rect x="295.5" y="74.60" width="1.5" height="1.2" fill="#aaa"/>
<line x1="298.2" y1="58.10" x2="299.7" y2="58.10" stroke="#777" stroke-width="0.6"/>
<rect x="295.5" y="57.50" width="1.5" height="1.2" fill="#aaa"/>
<line x1="298.2" y1="41.00" x2="299.7" y2="41.00" stroke="#777" stroke-width="0.6"/>
<rect x="295.5" y="40.40" width="1.5" height="1.2" fill="#aaa"/>
<text x="0" y="0" transform="translate(295.80,79.75) rotate(-90)" font-family="'Liberation Serif', serif" font-size="5.85" text-anchor="middle" fill="#333">Count</text>
<rect x="299.30" y="131.50" width="1.4" height="1.2" fill="#bdbdbd"/>
<rect x="335.64" y="131.50" width="3.2" height="1.2" fill="#bdbdbd"/>
<rect x="372.87" y="131.50" width="3.2" height="1.2" fill="#bdbdbd"/>
<rect x="410.11" y="131.50" width="3.2" height="1.2" fill="#bdbdbd"/>
<text x="358.20" y="138.50" font-family="'Liberation Serif', serif" font-size="5.6" text-anchor="middle" fill="#333">FL2-A : PE-A</text>
<text transform="translate(333.00,40.60) scale(1.0)" font-family="'Liberation Sans', sans-serif" font-size="4.50" word-spacing="0.50" fill="#333">&lt;2N: 3.49%</text>
<text transform="translate(333.00,46.25) scale(1.0)" font-family="'Liberation Sans', sans-serif" font-size="4.50" word-spacing="0.50" fill="#333">2N: 29.6%</text>
<text transform="translate(333.00,51.90) scale(1.0)" font-family="'Liberation Sans', sans-serif" font-size="4.50" word-spacing="0.50" fill="#333">S: 20.6%</text>
<text transform="translate(333.00,57.55) scale(1.0)" font-family="'Liberation Sans', sans-serif" font-size="4.50" word-spacing="0.50" fill="#333">4N: 45.4%</text>
<text transform="translate(333.00,63.20) scale(1.0)" font-family="'Liberation Sans', sans-serif" font-size="4.50" word-spacing="0.50" fill="#333">Ratio: 1.82</text>
<text transform="translate(333.00,68.85) scale(1.0)" font-family="'Liberation Sans', sans-serif" font-size="4.50" word-spacing="0.50" fill="#333">&gt;4N: 0.91%</text>
<text transform="translate(356.50,46.25) scale(1.0)" font-family="'Liberation Sans', sans-serif" font-size="4.50" word-spacing="0.50" fill="#333">[μ: 165404, cv: 5.75%]</text>
<text transform="translate(356.50,57.55) scale(1.0)" font-family="'Liberation Sans', sans-serif" font-size="4.50" word-spacing="0.50" fill="#333">[μ: 301220, cv: 13.7%]</text>
<path d="M429.2,126.5V32.3H541.6V126.5" fill="none" stroke="#9a9a9a" stroke-width="0.9"/>
<line x1="429.2" y1="126.5" x2="541.6" y2="126.5" stroke="#2a2a2a" stroke-width="1.3"/>
<path d="M430.20,126.50L430.60,126.50L431.00,126.50L431.40,126.50L431.79,126.50L432.19,126.50L432.59,126.50L432.99,126.50L433.39,126.50L433.79,126.50L434.19,126.50L434.59,126.50L434.98,126.50L435.38,126.50L435.78,126.50L436.18,126.50L436.58,126.50L436.98,126.50L437.38,126.50L437.78,126.50L438.17,126.50L438.57,126.50L438.97,126.50L439.37,126.50L439.77,126.50L440.17,126.50L440.57,126.50L440.97,126.50L441.36,126.50L441.76,126.50L442.16,126.50L442.56,126.50L442.96,126.50L443.36,126.50L443.76,126.50L444.16,126.50L444.55,126.50L444.95,126.50L445.35,126.50L445.75,126.50L446.15,126.50L446.55,126.50L446.95,126.50L447.34,126.50L447.74,126.50L448.14,126.50L448.54,126.50L448.94,126.50L449.34,126.50L449.74,126.50L450.14,126.50L450.53,126.50L450.93,126.50L451.33,126.50L451.73,126.50L452.13,126.49L452.53,126.46L452.93,126.40L453.33,126.26L453.72,125.96L454.12,125.35L454.52,124.18L454.92,122.11L455.32,118.68L455.72,113.41L456.12,105.91L456.52,96.06L456.91,84.19L457.31,71.21L457.71,58.53L458.11,47.87L458.51,40.88L458.91,38.60L459.31,40.31L459.71,45.23L460.10,52.66L460.50,61.59L460.90,71.00L461.30,80.12L461.30,127.20L430.20,127.20Z" fill="#aeaef6"/>
<path d="M461.30,80.12L461.70,88.51L462.11,95.68L462.51,101.75L462.91,106.40L463.32,109.10L463.72,110.64L464.12,111.74L464.52,112.58L464.93,113.10L465.33,113.43L465.73,113.61L466.14,113.40L466.54,113.16L466.94,113.02L467.35,112.90L467.75,113.10L468.15,113.50L468.56,113.56L468.96,113.09L469.36,112.79L469.77,113.41L470.17,114.03L470.57,113.52L470.98,112.89L471.38,112.94L471.78,113.27L472.18,113.05L472.59,112.17L472.99,111.38L473.39,111.06L473.80,110.65L474.20,110.43L474.20,127.20L461.30,127.20Z" fill="#14d862"/>
<path d="M474.20,110.59L474.60,109.92L475.00,109.13L475.41,108.24L475.81,107.23L476.21,106.10L476.61,104.87L477.01,103.54L477.42,102.11L477.82,100.62L478.22,99.08L478.62,97.50L479.02,95.93L479.43,94.39L479.83,92.90L480.23,91.50L480.63,90.22L481.03,89.08L481.44,88.10L481.84,87.30L482.24,86.70L482.64,86.29L483.04,86.09L483.45,86.08L483.85,86.26L484.25,86.60L484.65,87.07L485.05,87.64L485.46,88.25L485.86,88.93L486.26,89.68L486.66,90.51L487.06,91.44L487.47,92.45L487.87,93.55L488.27,94.73L488.67,95.99L489.07,97.33L489.48,98.74L489.88,100.20L490.28,101.70L490.68,103.25L491.08,104.81L491.48,106.38L491.89,107.95L492.29,109.50L492.69,111.02L493.09,112.49L493.49,113.91L493.90,115.26L494.30,116.53L494.70,117.73L495.10,118.84L495.50,119.85L495.91,120.78L496.31,121.62L496.71,122.36L497.11,123.02L497.51,123.60L497.92,124.11L498.32,124.54L498.72,124.91L499.12,125.22L499.52,125.47L499.93,125.69L500.33,125.86L500.73,126.00L501.13,126.12L501.53,126.21L501.94,126.28L502.34,126.33L502.74,126.38L503.14,126.41L503.54,126.43L503.95,126.45L504.35,126.47L504.75,126.48L504.75,127.20L474.20,127.20Z" fill="#f8a8a8"/>
<path d="M430.20,126.50L430.60,126.50L431.00,126.50L431.40,126.50L431.81,126.50L432.21,126.50L432.61,126.50L433.01,126.50L433.41,126.50L433.81,126.50L434.21,126.50L434.61,126.50L435.02,126.50L435.42,126.50L435.82,126.50L436.22,126.50L436.62,126.50L437.02,126.50L437.42,126.50L437.82,126.50L438.23,126.50L438.63,126.50L439.03,126.50L439.43,126.50L439.83,126.50L440.23,126.50L440.63,126.50L441.03,126.50L441.44,126.50L441.84,126.50L442.24,126.50L442.64,126.50L443.04,126.50L443.44,126.50L443.84,126.50L444.24,126.50L444.65,126.50L445.05,126.50L445.45,126.50L445.85,126.50L446.25,126.50L446.65,126.50L447.05,126.50L447.45,126.50L447.86,126.50L448.26,126.50L448.66,126.50L449.06,126.50L449.46,126.50L449.86,126.50L450.26,126.50L450.66,126.50L451.07,126.50L451.47,126.50L451.87,126.49L452.27,126.48L452.67,126.45L453.07,126.37L453.47,126.18L453.87,125.78L454.28,124.98L454.68,123.50L455.08,120.94L455.48,116.80L455.88,110.63L456.28,102.10L456.68,91.27L457.08,78.70L457.49,65.56L457.89,53.48L458.29,44.21L458.69,39.23L459.09,38.96L459.49,42.24L459.89,48.48L460.29,56.84L460.70,66.15L461.10,75.56L461.50,84.40L461.90,92.17" fill="none" stroke="#111" stroke-width="0.95"/>
<path d="M473.90,110.60L474.30,110.36L474.70,110.01L475.10,109.01L475.50,107.91L475.90,106.70L476.30,105.44L476.70,104.12L477.10,102.71L477.49,101.20L477.89,99.62L478.29,97.99L478.69,96.34L479.09,94.69L479.49,93.08L479.89,91.53L480.29,90.07L480.69,88.73L481.09,87.54L481.49,86.53L481.89,85.70L482.29,85.07L482.69,84.65L483.09,84.43L483.49,84.42L483.89,84.59L484.28,84.93L484.68,85.40L485.08,85.97L485.48,86.59L485.88,87.27L486.28,88.03L486.68,88.88L487.08,89.83L487.48,90.86L487.88,91.99L488.28,93.21L488.68,94.51L489.08,95.90L489.48,97.35L489.88,98.87L490.28,100.43L490.67,102.03L491.07,103.66L491.47,105.30L491.87,106.93L492.27,108.55L492.67,110.14L493.07,111.68L493.47,113.16L493.87,114.58L494.27,115.92L494.67,117.17L495.07,118.34L495.47,119.41L495.87,120.39L496.27,121.27L496.67,122.06L497.07,122.76L497.46,123.38L497.86,123.92L498.26,124.38L498.66,124.77L499.06,125.10L499.46,125.38L499.86,125.61L500.26,125.80L500.66,125.95L501.06,126.08L501.46,126.18L501.86,126.25L502.26,126.32L502.66,126.36L503.06,126.40L503.46,126.43L503.86,126.45L504.25,126.46L504.65,126.47L505.05,126.48L505.45,126.49L505.85,126.49L506.25,126.49L506.65,126.50L507.05,126.50L507.45,126.50L507.85,126.50L508.25,126.50L508.65,126.50L509.05,126.50L509.45,126.50L509.85,126.50L510.25,126.50L510.64,126.50L511.04,126.50L511.44,126.50L511.84,126.50L512.24,126.50L512.64,126.50L513.04,126.50L513.44,126.50L513.84,126.50L514.24,126.50L514.64,126.50L515.04,126.50L515.44,126.50L515.84,126.50L516.24,126.50L516.64,126.50L517.04,126.50L517.43,126.50L517.83,126.50L518.23,126.50L518.63,126.50L519.03,126.50L519.43,126.50L519.83,126.50L520.23,126.50L520.63,126.50L521.03,126.50L521.43,126.50L521.83,126.50L522.23,126.50L522.63,126.50L523.03,126.50L523.43,126.50L523.83,126.50L524.22,126.50L524.62,126.50L525.02,126.50L525.42,126.50L525.82,126.50L526.22,126.50L526.62,126.50L527.02,126.50L527.42,126.50L527.82,126.50L528.22,126.50L528.62,126.50L529.02,126.50L529.42,126.50L529.82,126.50L530.22,126.50L530.61,126.50L531.01,126.50L531.41,126.50L531.81,126.50L532.21,126.50L532.61,126.50L533.01,126.50L533.41,126.50L533.81,126.50L534.21,126.50L534.61,126.50L535.01,126.50L535.41,126.50L535.81,126.50L536.21,126.50L536.61,126.50L537.01,126.50L537.40,126.50L537.80,126.50L538.20,126.50L538.60,126.50L539.00,126.50L539.40,126.50L539.80,126.50L540.20,126.50L540.60,126.50" fill="none" stroke="#111" stroke-width="0.95"/>
<path d="M461.90,92.17L462.30,98.79L462.70,104.12L463.10,107.90L463.50,109.91L463.90,111.08L464.30,112.16L464.70,112.84L465.10,113.26L465.50,113.53L465.90,113.53L466.30,113.31L466.70,113.09L467.10,112.98L467.50,112.85L467.90,113.25L468.30,113.64L468.70,113.39L469.10,112.93L469.50,113.00L469.90,113.62L470.30,113.92L470.70,113.32L471.10,112.69L471.50,113.05L471.90,113.36L472.30,112.81L472.70,111.91L473.10,111.30L473.50,110.96L473.90,110.60" fill="none" stroke="#0b8a34" stroke-width="0.9"/>
<path d="M453.20,126.32L453.61,126.07L454.02,125.55L454.42,124.53L454.83,122.66L455.24,119.47L455.65,114.46L456.06,107.16L456.47,97.39L456.87,85.43L457.28,72.18L457.69,59.12L458.10,48.11" fill="none" stroke="#22229a" stroke-width="0.8"/>
<path d="M460.04,51.34L460.46,60.60L460.88,70.50L461.30,80.12" fill="none" stroke="#22229a" stroke-width="0.7"/>
<path d="M474.20,110.59L474.60,109.92L475.00,109.13L475.41,108.24L475.81,107.23L476.21,106.10L476.61,104.87L477.01,103.54L477.42,102.11L477.82,100.62L478.22,99.08L478.62,97.50L479.02,95.93L479.43,94.39L479.83,92.90L480.23,91.50L480.63,90.22L481.03,89.08L481.44,88.10L481.84,87.30L482.24,86.70L482.64,86.29L483.04,86.09L483.45,86.08L483.85,86.26L484.25,86.60L484.65,87.07L485.05,87.64L485.46,88.25L485.86,88.93L486.26,89.68L486.66,90.51L487.06,91.44L487.47,92.45L487.87,93.55L488.27,94.73L488.67,95.99L489.07,97.33L489.48,98.74L489.88,100.20L490.28,101.70L490.68,103.25L491.08,104.81L491.48,106.38L491.89,107.95L492.29,109.50L492.69,111.02L493.09,112.49L493.49,113.91L493.90,115.26L494.30,116.53L494.70,117.73L495.10,118.84L495.50,119.85L495.91,120.78L496.31,121.62L496.71,122.36L497.11,123.02L497.51,123.60L497.92,124.11L498.32,124.54L498.72,124.91L499.12,125.22L499.52,125.47L499.93,125.69L500.33,125.86L500.73,126.00L501.13,126.12L501.53,126.21L501.94,126.28L502.34,126.33L502.74,126.38L503.14,126.41L503.54,126.43L503.95,126.45L504.35,126.47L504.75,126.48" fill="none" stroke="#a01818" stroke-width="1.05"/>
<line x1="427.7" y1="126.50" x2="429.2" y2="126.50" stroke="#777" stroke-width="0.6"/>
<rect x="425.0" y="125.90" width="1.5" height="1.2" fill="#aaa"/>
<line x1="427.7" y1="105.80" x2="429.2" y2="105.80" stroke="#777" stroke-width="0.6"/>
<rect x="425.0" y="105.20" width="1.5" height="1.2" fill="#aaa"/>
<line x1="427.7" y1="85.10" x2="429.2" y2="85.10" stroke="#777" stroke-width="0.6"/>
<rect x="425.0" y="84.50" width="1.5" height="1.2" fill="#aaa"/>
<line x1="427.7" y1="64.40" x2="429.2" y2="64.40" stroke="#777" stroke-width="0.6"/>
<rect x="425.0" y="63.80" width="1.5" height="1.2" fill="#aaa"/>
<line x1="427.7" y1="43.70" x2="429.2" y2="43.70" stroke="#777" stroke-width="0.6"/>
<rect x="425.0" y="43.10" width="1.5" height="1.2" fill="#aaa"/>
<text x="0" y="0" transform="translate(425.30,79.80) rotate(-90)" font-family="'Liberation Serif', serif" font-size="5.85" text-anchor="middle" fill="#333">Count</text>
<rect x="428.80" y="131.50" width="1.4" height="1.2" fill="#bdbdbd"/>
<rect x="463.98" y="131.50" width="3.2" height="1.2" fill="#bdbdbd"/>
<rect x="500.06" y="131.50" width="3.2" height="1.2" fill="#bdbdbd"/>
<rect x="536.14" y="131.50" width="3.2" height="1.2" fill="#bdbdbd"/>
<text x="485.90" y="138.50" font-family="'Liberation Serif', serif" font-size="5.6" text-anchor="middle" fill="#333">FL2-A : PE-A</text>
<text transform="translate(461.50,40.60) scale(1.0)" font-family="'Liberation Sans', sans-serif" font-size="4.50" word-spacing="0.50" fill="#333">&lt;2N: 1.57%</text>
<text transform="translate(461.50,46.25) scale(1.0)" font-family="'Liberation Sans', sans-serif" font-size="4.50" word-spacing="0.50" fill="#333">2N: 25.8%</text>
<text transform="translate(461.50,51.90) scale(1.0)" font-family="'Liberation Sans', sans-serif" font-size="4.50" word-spacing="0.50" fill="#333">S: 19.1%</text>
<text transform="translate(461.50,57.55) scale(1.0)" font-family="'Liberation Sans', sans-serif" font-size="4.50" word-spacing="0.50" fill="#333">4N: 53.0%</text>
<text transform="translate(461.50,63.20) scale(1.0)" font-family="'Liberation Sans', sans-serif" font-size="4.50" word-spacing="0.50" fill="#333">Ratio: 1.77</text>
<text transform="translate(461.50,68.85) scale(1.0)" font-family="'Liberation Sans', sans-serif" font-size="4.50" word-spacing="0.50" fill="#333">&gt;4N: 0.57%</text>
<text transform="translate(485.00,46.25) scale(1.0)" font-family="'Liberation Sans', sans-serif" font-size="4.50" word-spacing="0.50" fill="#333">[μ: 166159, cv: 6.61%]</text>
<text transform="translate(485.00,57.55) scale(1.0)" font-family="'Liberation Sans', sans-serif" font-size="4.50" word-spacing="0.50" fill="#333">[μ: 294801, cv: 16.3%]</text>
<path d="M53.1,251.0V159.3H164.4V251.0" fill="none" stroke="#9a9a9a" stroke-width="0.9"/>
<line x1="53.1" y1="251.0" x2="164.4" y2="251.0" stroke="#3a3a3a" stroke-width="1.2"/>
<path d="M54.10,251.00L54.50,251.00L54.90,251.00L55.30,251.00L55.69,251.00L56.09,251.00L56.49,251.00L56.89,251.00L57.29,251.00L57.69,251.00L58.09,251.00L58.48,251.00L58.88,251.00L59.28,251.00L59.68,251.00L60.08,251.00L60.48,251.00L60.88,251.00L61.28,251.00L61.67,251.00L62.07,251.00L62.47,251.00L62.87,251.00L63.27,251.00L63.67,251.00L64.07,251.00L64.46,251.00L64.86,251.00L65.26,251.00L65.66,251.00L66.06,251.00L66.46,251.00L66.86,251.00L67.25,251.00L67.65,250.99L68.05,250.99L68.45,250.97L68.85,250.95L69.25,250.92L69.65,250.85L70.05,250.75L70.44,250.58L70.84,250.31L71.24,249.90L71.64,249.30L72.04,248.42L72.44,247.17L72.84,245.45L73.23,243.14L73.63,240.14L74.03,236.34L74.43,231.67L74.83,226.11L75.23,219.68L75.63,212.50L76.02,204.77L76.42,196.76L76.82,188.82L77.22,181.35L77.62,174.74L78.02,169.38L78.42,165.59L78.82,163.58L79.21,163.67L79.61,166.34L80.01,171.33L80.41,178.11L80.81,186.08L81.21,194.58L81.61,203.01L82.00,210.88L82.40,217.77L82.80,223.56L83.20,228.23L83.20,251.70L54.10,251.70Z" fill="#aeaef6"/>
<path d="M83.20,228.23L83.60,231.57L83.99,234.01L84.39,236.39L84.79,238.17L85.18,239.25L85.58,239.90L85.98,240.23L86.38,240.29L86.77,240.27L87.17,240.23L87.57,240.15L87.96,240.61L88.36,241.13L88.76,241.27L89.15,241.21L89.55,241.14L89.95,241.04L90.34,240.93L90.74,240.63L91.14,240.33L91.53,240.62L91.93,241.02L92.33,240.94L92.73,240.48L93.12,240.28L93.52,240.64L93.92,240.95L94.31,240.44L94.71,239.92L95.11,240.15L95.50,240.58L95.90,240.66L95.90,251.70L83.20,251.70Z" fill="#14d862"/>
<path d="M95.90,239.91L96.30,239.76L96.70,239.58L97.11,239.37L97.51,239.14L97.91,238.87L98.31,238.58L98.71,238.26L99.12,237.94L99.52,237.61L99.92,237.28L100.32,236.99L100.72,236.73L101.13,236.54L101.53,236.43L101.93,236.40L102.33,236.49L102.73,236.70L103.14,237.02L103.54,237.46L103.94,238.02L104.34,238.67L104.74,239.38L105.15,240.11L105.55,240.84L105.95,241.57L106.35,242.26L106.75,242.92L107.16,243.53L107.56,244.11L107.96,244.64L108.36,245.13L108.77,245.58L109.17,246.01L109.57,246.41L109.97,246.78L110.37,247.14L110.78,247.48L111.18,247.80L111.58,248.10L111.98,248.39L112.38,248.66L112.79,248.91L113.19,249.14L113.59,249.36L113.99,249.56L114.39,249.73L114.80,249.89L115.20,250.03L115.60,250.16L116.00,250.26L116.40,250.34L116.81,250.41L117.21,250.45L117.61,250.47L118.01,250.48L118.41,250.46L118.82,250.42L119.22,250.37L119.62,250.29L119.62,251.70L95.90,251.70Z" fill="#f8a8a8"/>
<path d="M54.10,251.00L54.50,251.00L54.90,251.00L55.30,251.00L55.71,251.00L56.11,251.00L56.51,251.00L56.91,251.00L57.31,251.00L57.71,251.00L58.11,251.00L58.51,251.00L58.92,251.00L59.32,251.00L59.72,251.00L60.12,251.00L60.52,251.00L60.92,251.00L61.32,251.00L61.73,251.00L62.13,251.00L62.53,251.00L62.93,251.00L63.33,251.00L63.73,251.00L64.13,251.00L64.54,251.00L64.94,251.00L65.34,251.00L65.74,251.00L66.14,251.00L66.54,251.00L66.94,251.00L67.34,251.00L67.75,250.99L68.15,250.98L68.55,250.97L68.95,250.94L69.35,250.90L69.75,250.83L70.15,250.71L70.56,250.51L70.96,250.21L71.36,249.75L71.76,249.07L72.16,248.08L72.56,246.68L72.96,244.78L73.36,242.24L73.77,238.97L74.17,234.85L74.57,229.84L74.97,223.92L75.37,217.16L75.77,209.70L76.17,201.78L76.58,193.70L76.98,185.84L77.38,178.61L77.78,172.41L78.18,167.62L78.58,164.53L78.98,163.30L79.39,164.51L79.79,168.26L80.19,174.15L80.59,181.60L80.99,189.94L81.39,198.54L81.79,206.81L82.19,214.34L82.60,220.70L83.00,226.02L83.40,230.04L83.80,232.90" fill="none" stroke="#111" stroke-width="0.95"/>
<path d="M95.60,240.69L96.00,240.58L96.40,240.28L96.80,239.84L97.20,239.45L97.61,239.11L98.01,238.80L98.41,238.50L98.81,238.19L99.21,237.86L99.61,237.53L100.01,237.21L100.41,236.93L100.82,236.68L101.22,236.51L101.62,236.41L102.02,236.41L102.42,236.53L102.82,236.76L103.22,237.11L103.62,237.57L104.02,238.15L104.43,238.81L104.83,239.53L105.23,240.26L105.63,240.99L106.03,241.71L106.43,242.39L106.83,243.04L107.23,243.65L107.64,244.21L108.04,244.73L108.44,245.21L108.84,245.66L109.24,246.08L109.64,246.48L110.04,246.85L110.44,247.20L110.84,247.53L111.25,247.85L111.65,248.15L112.05,248.43L112.45,248.70L112.85,248.95L113.25,249.18L113.65,249.39L114.05,249.58L114.46,249.76L114.86,249.92L115.26,250.05L115.66,250.17L116.06,250.27L116.46,250.35L116.86,250.41L117.26,250.46L117.67,250.48L118.07,250.48L118.47,250.46L118.87,250.42L119.27,250.36L119.67,250.28L120.07,250.19L120.47,250.08L120.87,249.97L121.28,249.86L121.68,249.74L122.08,249.64L122.48,249.54L122.88,249.47L123.28,249.42L123.68,249.39L124.08,249.39L124.49,249.42L124.89,249.48L125.29,249.56L125.69,249.66L126.09,249.77L126.49,249.90L126.89,250.03L127.29,250.16L127.69,250.28L128.10,250.40L128.50,250.51L128.90,250.60L129.30,250.68L129.70,250.75L130.10,250.81L130.50,250.86L130.90,250.90L131.31,250.92L131.71,250.95L132.11,250.96L132.51,250.97L132.91,250.98L133.31,250.99L133.71,250.99L134.11,251.00L134.51,251.00L134.92,251.00L135.32,251.00L135.72,251.00L136.12,251.00L136.52,251.00L136.92,251.00L137.32,251.00L137.72,251.00L138.13,251.00L138.53,251.00L138.93,251.00L139.33,251.00L139.73,251.00L140.13,251.00L140.53,251.00L140.93,251.00L141.33,251.00L141.74,251.00L142.14,251.00L142.54,251.00L142.94,251.00L143.34,251.00L143.74,251.00L144.14,251.00L144.54,251.00L144.95,251.00L145.35,251.00L145.75,251.00L146.15,251.00L146.55,251.00L146.95,251.00L147.35,251.00L147.75,251.00L148.16,251.00L148.56,251.00L148.96,251.00L149.36,251.00L149.76,251.00L150.16,251.00L150.56,251.00L150.96,251.00L151.36,251.00L151.77,251.00L152.17,251.00L152.57,251.00L152.97,251.00L153.37,251.00L153.77,251.00L154.17,251.00L154.57,251.00L154.98,251.00L155.38,251.00L155.78,251.00L156.18,251.00L156.58,251.00L156.98,251.00L157.38,251.00L157.78,251.00L158.18,251.00L158.59,251.00L158.99,251.00L159.39,251.00L159.79,251.00L160.19,251.00L160.59,251.00L160.99,251.00L161.39,251.00L161.80,251.00L162.20,251.00L162.60,251.00L163.00,251.00L163.40,251.00" fill="none" stroke="#111" stroke-width="0.95"/>
<path d="M83.80,232.90L84.19,235.29L84.59,237.34L84.98,238.80L85.37,239.59L85.77,240.12L86.16,240.27L86.55,240.29L86.95,240.26L87.34,240.19L87.73,240.31L88.13,240.83L88.52,241.30L88.91,241.25L89.31,241.19L89.70,241.10L90.09,241.01L90.49,240.82L90.88,240.52L91.27,240.35L91.67,240.76L92.06,241.15L92.45,240.79L92.85,240.34L93.24,240.39L93.63,240.74L94.03,240.81L94.42,240.30L94.81,239.81L95.21,240.26L95.60,240.69" fill="none" stroke="#0b8a34" stroke-width="0.9"/>
<path d="M70.10,250.73L70.50,250.55L70.90,250.26L71.30,249.83L71.70,249.18L72.10,248.25L72.50,246.93L72.90,245.12L73.30,242.70L73.70,239.56L74.10,235.60L74.50,230.76L74.90,225.02L75.30,218.42L75.70,211.10L76.10,203.27L76.50,195.22L76.90,187.31L77.30,179.95L77.70,173.54" fill="none" stroke="#22229a" stroke-width="0.8"/>
<path d="M80.32,176.46L80.73,184.48L81.14,193.21L81.55,201.95L81.97,210.16L82.38,217.36L82.79,223.39L83.20,228.23" fill="none" stroke="#22229a" stroke-width="0.7"/>
<path d="M95.90,239.91L96.30,239.76L96.70,239.58L97.11,239.37L97.51,239.14L97.91,238.87L98.31,238.58L98.71,238.26L99.12,237.94L99.52,237.61L99.92,237.28L100.32,236.99L100.72,236.73L101.13,236.54L101.53,236.43L101.93,236.40L102.33,236.49L102.73,236.70L103.14,237.02L103.54,237.46L103.94,238.02L104.34,238.67L104.74,239.38L105.15,240.11L105.55,240.84L105.95,241.57L106.35,242.26L106.75,242.92L107.16,243.53L107.56,244.11L107.96,244.64L108.36,245.13L108.77,245.58L109.17,246.01L109.57,246.41L109.97,246.78L110.37,247.14L110.78,247.48L111.18,247.80L111.58,248.10L111.98,248.39L112.38,248.66L112.79,248.91L113.19,249.14L113.59,249.36L113.99,249.56L114.39,249.73L114.80,249.89L115.20,250.03L115.60,250.16L116.00,250.26L116.40,250.34L116.81,250.41L117.21,250.45L117.61,250.47L118.01,250.48L118.41,250.46L118.82,250.42L119.22,250.37L119.62,250.29" fill="none" stroke="#a01818" stroke-width="1.05"/>
<line x1="51.6" y1="251.00" x2="53.1" y2="251.00" stroke="#777" stroke-width="0.6"/>
<rect x="48.9" y="250.40" width="1.5" height="1.2" fill="#aaa"/>
<line x1="51.6" y1="232.20" x2="53.1" y2="232.20" stroke="#777" stroke-width="0.6"/>
<rect x="48.9" y="231.60" width="1.5" height="1.2" fill="#aaa"/>
<line x1="51.6" y1="213.40" x2="53.1" y2="213.40" stroke="#777" stroke-width="0.6"/>
<rect x="48.9" y="212.80" width="1.5" height="1.2" fill="#aaa"/>
<line x1="51.6" y1="194.60" x2="53.1" y2="194.60" stroke="#777" stroke-width="0.6"/>
<rect x="48.9" y="194.00" width="1.5" height="1.2" fill="#aaa"/>
<line x1="51.6" y1="175.80" x2="53.1" y2="175.80" stroke="#777" stroke-width="0.6"/>
<rect x="48.9" y="175.20" width="1.5" height="1.2" fill="#aaa"/>
<text x="0" y="0" transform="translate(49.20,205.75) rotate(-90)" font-family="'Liberation Serif', serif" font-size="6.1" text-anchor="middle" fill="#333">Count</text>
<rect x="69.70" y="255.20" width="6.4" height="1.3" fill="#cacaca"/>
<rect x="91.50" y="255.20" width="6.4" height="1.3" fill="#cacaca"/>
<rect x="113.30" y="255.20" width="6.4" height="1.3" fill="#cacaca"/>
<rect x="135.10" y="255.20" width="6.4" height="1.3" fill="#cacaca"/>
<rect x="156.90" y="255.20" width="6.4" height="1.3" fill="#cacaca"/>
<text x="108.95" y="264.40" font-family="'Liberation Serif', serif" font-size="6.6" text-anchor="middle" fill="#333">BL2-A :: PI-A</text>
<text transform="translate(85.00,167.50) scale(1.0)" font-family="'Liberation Sans', sans-serif" font-size="4.50" word-spacing="0.50" fill="#333">&lt;2N: 4.72%</text>
<text transform="translate(85.00,173.15) scale(1.0)" font-family="'Liberation Sans', sans-serif" font-size="4.50" word-spacing="0.50" fill="#333">2N: 54.9%</text>
<text transform="translate(85.00,178.80) scale(1.0)" font-family="'Liberation Sans', sans-serif" font-size="4.50" word-spacing="0.50" fill="#333">S: 16.3%</text>
<text transform="translate(85.00,184.45) scale(1.0)" font-family="'Liberation Sans', sans-serif" font-size="4.50" word-spacing="0.50" fill="#333">4N: 20.0%</text>
<text transform="translate(85.00,190.10) scale(1.0)" font-family="'Liberation Sans', sans-serif" font-size="4.50" word-spacing="0.50" fill="#333">Ratio: 1.84</text>
<text transform="translate(85.00,195.75) scale(1.0)" font-family="'Liberation Sans', sans-serif" font-size="4.50" word-spacing="0.50" fill="#333">&gt;4N: 4.01%</text>
<text transform="translate(108.50,173.15) scale(1.0)" font-family="'Liberation Sans', sans-serif" font-size="4.50" word-spacing="0.50" fill="#333">[μ: 62421, cv: 13.5%]</text>
<text transform="translate(108.50,184.45) scale(1.0)" font-family="'Liberation Sans', sans-serif" font-size="4.50" word-spacing="0.50" fill="#333">[μ: 115165, cv: 13.6%]</text>
<path d="M177.5,250.1V160.8H290.3V250.1" fill="none" stroke="#9a9a9a" stroke-width="0.9"/>
<line x1="177.5" y1="250.1" x2="290.3" y2="250.1" stroke="#3a3a3a" stroke-width="1.2"/>
<path d="M178.50,250.10L178.90,250.10L179.30,250.10L179.70,250.10L180.09,250.10L180.49,250.10L180.89,250.10L181.29,250.10L181.69,250.10L182.09,250.10L182.49,250.10L182.89,250.10L183.28,250.10L183.68,250.10L184.08,250.10L184.48,250.10L184.88,250.10L185.28,250.10L185.68,250.10L186.08,250.10L186.47,250.10L186.87,250.10L187.27,250.10L187.67,250.10L188.07,250.10L188.47,250.10L188.87,250.10L189.27,250.10L189.66,250.10L190.06,250.10L190.46,250.10L190.86,250.10L191.26,250.10L191.66,250.10L192.06,250.10L192.46,250.10L192.85,250.09L193.25,250.09L193.65,250.08L194.05,250.07L194.45,250.05L194.85,250.02L195.25,249.97L195.65,249.89L196.04,249.77L196.44,249.59L196.84,249.33L197.24,248.96L197.64,248.43L198.04,247.69L198.44,246.70L198.84,245.39L199.23,243.68L199.63,241.51L200.03,238.80L200.43,235.49L200.83,231.55L201.23,226.96L201.63,221.73L202.03,215.93L202.42,209.66L202.82,203.07L203.22,196.35L203.62,189.73L204.02,183.46L204.42,177.79L204.82,172.97L205.22,169.21L205.61,166.67L206.01,165.47L206.41,165.94L206.81,168.35L207.21,172.48L207.61,178.01L208.01,184.54L208.41,191.64L208.80,198.89L209.20,205.97L209.60,212.67L210.00,218.71L210.00,250.80L178.50,250.80Z" fill="#aeaef6"/>
<path d="M210.00,218.71L210.40,223.67L210.79,227.62L211.19,230.63L211.59,232.90L211.99,234.88L212.38,236.48L212.78,237.47L213.18,237.91L213.57,238.17L213.97,238.50L214.37,238.71L214.76,239.44L215.16,240.17L215.56,240.23L215.96,239.92L216.35,239.70L216.75,239.62L217.15,239.59L217.54,239.90L217.94,240.21L218.34,240.37L218.74,240.49L219.13,240.27L219.53,239.79L219.93,239.47L220.32,239.49L220.72,239.50L221.12,239.66L221.51,239.81L221.91,239.89L222.31,239.93L222.71,239.90L223.10,239.80L223.50,239.66L223.50,250.80L210.00,250.80Z" fill="#14d862"/>
<path d="M223.50,239.01L223.90,238.83L224.30,238.62L224.70,238.38L225.10,238.10L225.49,237.79L225.89,237.43L226.29,237.04L226.69,236.62L227.09,236.16L227.49,235.68L227.89,235.18L228.29,234.67L228.68,234.16L229.08,233.67L229.48,233.21L229.88,232.80L230.28,232.45L230.68,232.17L231.08,231.99L231.48,231.90L231.87,231.93L232.27,232.07L232.67,232.33L233.07,232.70L233.47,233.19L233.87,233.76L234.27,234.40L234.67,235.09L235.06,235.80L235.46,236.54L235.86,237.29L236.26,238.03L236.66,238.77L237.06,239.50L237.46,240.21L237.86,240.89L238.25,241.56L238.65,242.21L239.05,242.82L239.45,243.42L239.85,243.99L240.25,244.53L240.65,245.04L241.05,245.53L241.44,245.99L241.84,246.42L242.24,246.83L242.64,247.20L243.04,247.54L243.44,247.86L243.84,248.14L244.24,248.40L244.63,248.63L245.03,248.84L245.43,249.03L245.83,249.19L246.23,249.33L246.63,249.45L247.03,249.56L247.43,249.65L247.82,249.73L248.22,249.79L248.62,249.85L249.02,249.90L249.42,249.94L249.42,250.80L223.50,250.80Z" fill="#f8a8a8"/>
<path d="M178.50,250.10L178.90,250.10L179.30,250.10L179.70,250.10L180.10,250.10L180.51,250.10L180.91,250.10L181.31,250.10L181.71,250.10L182.11,250.10L182.51,250.10L182.91,250.10L183.31,250.10L183.72,250.10L184.12,250.10L184.52,250.10L184.92,250.10L185.32,250.10L185.72,250.10L186.12,250.10L186.53,250.10L186.93,250.10L187.33,250.10L187.73,250.10L188.13,250.10L188.53,250.10L188.93,250.10L189.33,250.10L189.73,250.10L190.14,250.10L190.54,250.10L190.94,250.10L191.34,250.10L191.74,250.10L192.14,250.10L192.54,250.10L192.94,250.09L193.35,250.09L193.75,250.08L194.15,250.07L194.55,250.04L194.95,250.01L195.35,249.95L195.75,249.86L196.16,249.73L196.56,249.53L196.96,249.24L197.36,248.82L197.76,248.23L198.16,247.42L198.56,246.33L198.96,244.89L199.37,243.02L199.77,240.66L200.17,237.74L200.57,234.20L200.97,230.00L201.37,225.15L201.77,219.67L202.17,213.64L202.57,207.19L202.98,200.49L203.38,193.74L203.78,187.18L204.18,181.08L204.58,175.70L204.98,171.27L205.38,167.98L205.78,165.99L206.19,165.43L206.59,166.77L206.99,170.00L207.39,174.84L207.79,180.92L208.19,187.81L208.59,195.08L209.00,202.31L209.40,209.29L209.80,215.76L210.20,221.31L210.60,225.81" fill="none" stroke="#111" stroke-width="0.95"/>
<path d="M223.20,239.77L223.60,239.62L224.00,239.43L224.40,238.96L224.80,238.37L225.20,237.97L225.60,237.69L226.00,237.33L226.40,236.92L226.81,236.49L227.21,236.02L227.61,235.53L228.01,235.02L228.41,234.51L228.81,234.01L229.21,233.52L229.61,233.08L230.01,232.68L230.41,232.35L230.81,232.10L231.21,231.95L231.61,231.90L232.01,231.97L232.41,232.15L232.81,232.45L233.22,232.87L233.62,233.39L234.02,234.00L234.42,234.66L234.82,235.36L235.22,236.09L235.62,236.83L236.02,237.58L236.42,238.33L236.82,239.07L237.22,239.79L237.62,240.49L238.02,241.18L238.42,241.84L238.82,242.47L239.22,243.08L239.62,243.67L240.03,244.23L240.43,244.76L240.83,245.27L241.23,245.75L241.63,246.19L242.03,246.61L242.43,247.00L242.83,247.36L243.23,247.70L243.63,248.00L244.03,248.27L244.43,248.52L244.83,248.74L245.23,248.94L245.63,249.11L246.03,249.26L246.44,249.40L246.84,249.51L247.24,249.61L247.64,249.69L248.04,249.77L248.44,249.83L248.84,249.88L249.24,249.92L249.64,249.95L250.04,249.98L250.44,250.01L250.84,250.03L251.24,250.04L251.64,250.05L252.04,250.06L252.44,250.07L252.84,250.08L253.25,250.08L253.65,250.09L254.05,250.09L254.45,250.09L254.85,250.09L255.25,250.10L255.65,250.10L256.05,250.10L256.45,250.10L256.85,250.10L257.25,250.10L257.65,250.10L258.05,250.10L258.45,250.10L258.85,250.10L259.25,250.10L259.66,250.10L260.06,250.10L260.46,250.10L260.86,250.10L261.26,250.10L261.66,250.10L262.06,250.10L262.46,250.10L262.86,250.10L263.26,250.10L263.66,250.10L264.06,250.10L264.46,250.10L264.86,250.10L265.26,250.10L265.66,250.10L266.06,250.10L266.47,250.10L266.87,250.10L267.27,250.10L267.67,250.10L268.07,250.10L268.47,250.10L268.87,250.10L269.27,250.10L269.67,250.10L270.07,250.10L270.47,250.10L270.87,250.10L271.27,250.10L271.67,250.10L272.07,250.10L272.47,250.10L272.88,250.10L273.28,250.10L273.68,250.10L274.08,250.10L274.48,250.10L274.88,250.10L275.28,250.10L275.68,250.10L276.08,250.10L276.48,250.10L276.88,250.10L277.28,250.10L277.68,250.10L278.08,250.10L278.48,250.10L278.88,250.10L279.28,250.10L279.69,250.10L280.09,250.10L280.49,250.10L280.89,250.10L281.29,250.10L281.69,250.10L282.09,250.10L282.49,250.10L282.89,250.10L283.29,250.10L283.69,250.10L284.09,250.10L284.49,250.10L284.89,250.10L285.29,250.10L285.69,250.10L286.10,250.10L286.50,250.10L286.90,250.10L287.30,250.10L287.70,250.10L288.10,250.10L288.50,250.10L288.90,250.10L289.30,250.10" fill="none" stroke="#111" stroke-width="0.95"/>
<path d="M210.60,225.81L211.01,229.33L211.41,231.98L211.82,234.06L212.23,235.90L212.63,237.23L213.04,237.79L213.45,238.07L213.85,238.41L214.26,238.66L214.66,239.25L215.07,240.01L215.48,240.29L215.88,239.98L216.29,239.71L216.70,239.63L217.10,239.55L217.51,239.87L217.92,240.19L218.32,240.36L218.73,240.49L219.14,240.26L219.54,239.78L219.95,239.47L220.35,239.49L220.76,239.52L221.17,239.68L221.57,239.83L221.98,239.90L222.39,239.94L222.79,239.88L223.20,239.77" fill="none" stroke="#0b8a34" stroke-width="0.9"/>
<path d="M195.90,249.82L196.30,249.67L196.69,249.44L197.09,249.12L197.48,248.66L197.88,248.02L198.27,247.15L198.67,245.99L199.06,244.47L199.46,242.52L199.85,240.07L200.25,237.06L200.65,233.45L201.04,229.19L201.44,224.30L201.83,218.81L202.23,212.80L202.62,206.40L203.02,199.78L203.41,193.13L203.81,186.70L204.20,180.73L204.60,175.47" fill="none" stroke="#22229a" stroke-width="0.8"/>
<path d="M207.60,177.90L208.00,184.44L208.40,191.55L208.80,198.82L209.20,205.92L209.60,212.65L210.00,218.71" fill="none" stroke="#22229a" stroke-width="0.7"/>
<path d="M223.50,239.01L223.90,238.83L224.30,238.62L224.70,238.38L225.10,238.10L225.49,237.79L225.89,237.43L226.29,237.04L226.69,236.62L227.09,236.16L227.49,235.68L227.89,235.18L228.29,234.67L228.68,234.16L229.08,233.67L229.48,233.21L229.88,232.80L230.28,232.45L230.68,232.17L231.08,231.99L231.48,231.90L231.87,231.93L232.27,232.07L232.67,232.33L233.07,232.70L233.47,233.19L233.87,233.76L234.27,234.40L234.67,235.09L235.06,235.80L235.46,236.54L235.86,237.29L236.26,238.03L236.66,238.77L237.06,239.50L237.46,240.21L237.86,240.89L238.25,241.56L238.65,242.21L239.05,242.82L239.45,243.42L239.85,243.99L240.25,244.53L240.65,245.04L241.05,245.53L241.44,245.99L241.84,246.42L242.24,246.83L242.64,247.20L243.04,247.54L243.44,247.86L243.84,248.14L244.24,248.40L244.63,248.63L245.03,248.84L245.43,249.03L245.83,249.19L246.23,249.33L246.63,249.45L247.03,249.56L247.43,249.65L247.82,249.73L248.22,249.79L248.62,249.85L249.02,249.90L249.42,249.94" fill="none" stroke="#a01818" stroke-width="1.05"/>
<line x1="176.0" y1="250.10" x2="177.5" y2="250.10" stroke="#777" stroke-width="0.6"/>
<rect x="173.3" y="249.50" width="1.5" height="1.2" fill="#aaa"/>
<line x1="176.0" y1="230.50" x2="177.5" y2="230.50" stroke="#777" stroke-width="0.6"/>
<rect x="173.3" y="229.90" width="1.5" height="1.2" fill="#aaa"/>
<line x1="176.0" y1="210.90" x2="177.5" y2="210.90" stroke="#777" stroke-width="0.6"/>
<rect x="173.3" y="210.30" width="1.5" height="1.2" fill="#aaa"/>
<line x1="176.0" y1="191.30" x2="177.5" y2="191.30" stroke="#777" stroke-width="0.6"/>
<rect x="173.3" y="190.70" width="1.5" height="1.2" fill="#aaa"/>
<line x1="176.0" y1="171.70" x2="177.5" y2="171.70" stroke="#777" stroke-width="0.6"/>
<rect x="173.3" y="171.10" width="1.5" height="1.2" fill="#aaa"/>
<text x="0" y="0" transform="translate(173.60,206.05) rotate(-90)" font-family="'Liberation Serif', serif" font-size="6.1" text-anchor="middle" fill="#333">Count</text>
<rect x="194.10" y="254.30" width="6.4" height="1.3" fill="#cacaca"/>
<rect x="215.90" y="254.30" width="6.4" height="1.3" fill="#cacaca"/>
<rect x="237.70" y="254.30" width="6.4" height="1.3" fill="#cacaca"/>
<rect x="259.50" y="254.30" width="6.4" height="1.3" fill="#cacaca"/>
<rect x="281.30" y="254.30" width="6.4" height="1.3" fill="#cacaca"/>
<text x="234.10" y="263.50" font-family="'Liberation Serif', serif" font-size="6.6" text-anchor="middle" fill="#333">BL2-A :: PI-A</text>
<text transform="translate(210.50,168.30) scale(1.0)" font-family="'Liberation Sans', sans-serif" font-size="4.50" word-spacing="0.50" fill="#333">&lt;2N: 6.54%</text>
<text transform="translate(210.50,173.95) scale(1.0)" font-family="'Liberation Sans', sans-serif" font-size="4.50" word-spacing="0.50" fill="#333">2N: 53.2%</text>
<text transform="translate(210.50,179.60) scale(1.0)" font-family="'Liberation Sans', sans-serif" font-size="4.50" word-spacing="0.50" fill="#333">S: 13.3%</text>
<text transform="translate(210.50,185.25) scale(1.0)" font-family="'Liberation Sans', sans-serif" font-size="4.50" word-spacing="0.50" fill="#333">4N: 25.2%</text>
<text transform="translate(210.50,190.90) scale(1.0)" font-family="'Liberation Sans', sans-serif" font-size="4.50" word-spacing="0.50" fill="#333">Ratio: 1.87</text>
<text transform="translate(210.50,196.55) scale(1.0)" font-family="'Liberation Sans', sans-serif" font-size="4.50" word-spacing="0.50" fill="#333">&gt;4N: 1.66%</text>
<text transform="translate(234.00,173.95) scale(1.0)" font-family="'Liberation Sans', sans-serif" font-size="4.50" word-spacing="0.50" fill="#333">[μ: 66972, cv: 13.6%]</text>
<text transform="translate(234.00,185.25) scale(1.0)" font-family="'Liberation Sans', sans-serif" font-size="4.50" word-spacing="0.50" fill="#333">[μ: 125290, cv: 15.5%]</text>
<path d="M302.7,250.4V160.5H418.5V250.4" fill="none" stroke="#9a9a9a" stroke-width="0.9"/>
<line x1="302.7" y1="250.4" x2="418.5" y2="250.4" stroke="#3a3a3a" stroke-width="1.2"/>
<path d="M303.70,250.40L304.10,250.40L304.50,250.40L304.90,250.40L305.29,250.40L305.69,250.40L306.09,250.40L306.49,250.40L306.89,250.40L307.29,250.40L307.69,250.40L308.09,250.40L308.48,250.40L308.88,250.40L309.28,250.40L309.68,250.40L310.08,250.40L310.48,250.40L310.88,250.40L311.27,250.40L311.67,250.40L312.07,250.40L312.47,250.40L312.87,250.40L313.27,250.40L313.67,250.40L314.06,250.40L314.46,250.40L314.86,250.40L315.26,250.40L315.66,250.40L316.06,250.40L316.46,250.40L316.86,250.40L317.25,250.40L317.65,250.40L318.05,250.40L318.45,250.39L318.85,250.39L319.25,250.37L319.65,250.35L320.04,250.31L320.44,250.23L320.84,250.11L321.24,249.91L321.64,249.60L322.04,249.11L322.44,248.38L322.84,247.33L323.23,245.83L323.63,243.77L324.03,241.02L324.43,237.48L324.83,233.03L325.23,227.65L325.63,221.34L326.02,214.22L326.42,206.47L326.82,198.40L327.22,190.38L327.62,182.84L328.02,176.25L328.42,171.02L328.81,167.51L329.21,165.96L329.61,166.62L330.01,169.63L330.41,174.70L330.81,181.41L331.21,189.19L331.61,197.47L332.00,205.73L332.40,213.55L332.80,220.43L333.20,226.12L333.20,251.10L303.70,251.10Z" fill="#aeaef6"/>
<path d="M333.20,226.12L333.60,230.85L333.99,234.67L334.39,238.29L334.79,241.14L335.18,242.81L335.58,243.77L335.98,244.33L336.38,244.59L336.77,244.64L337.17,244.51L337.57,244.29L337.96,244.62L338.36,244.96L338.76,244.92L339.15,244.67L339.55,244.51L339.95,244.53L340.34,244.55L340.74,244.63L341.14,244.69L341.53,244.52L341.93,244.28L342.33,243.77L342.72,243.04L343.12,242.36L343.52,241.88L343.92,241.33L344.31,241.26L344.71,241.06L345.11,239.93L345.50,238.42L345.90,236.95L345.90,251.10L333.20,251.10Z" fill="#14d862"/>
<path d="M345.90,237.24L346.30,235.83L346.70,234.27L347.10,232.57L347.50,230.72L347.90,228.75L348.30,226.68L348.70,224.54L349.10,222.37L349.50,220.20L349.90,218.08L350.30,216.05L350.70,214.17L351.10,212.48L351.50,211.03L351.89,209.85L352.29,208.98L352.69,208.44L353.09,208.26L353.49,208.43L353.89,208.93L354.29,209.70L354.69,210.75L355.09,212.04L355.49,213.55L355.89,215.25L356.29,217.10L356.69,219.08L357.09,221.15L357.49,223.27L357.89,225.42L358.29,227.56L358.69,229.67L359.09,231.72L359.49,233.68L359.89,235.55L360.29,237.31L360.69,238.94L361.09,240.45L361.49,241.82L361.89,243.05L362.29,244.16L362.69,245.14L363.08,246.00L363.48,246.74L363.88,247.38L364.28,247.93L364.68,248.40L365.08,248.79L365.48,249.11L365.88,249.37L366.28,249.59L366.68,249.77L367.08,249.91L367.48,250.02L367.88,250.11L368.28,250.18L368.28,251.10L345.90,251.10Z" fill="#f8a8a8"/>
<path d="M303.70,250.40L304.10,250.40L304.50,250.40L304.90,250.40L305.31,250.40L305.71,250.40L306.11,250.40L306.51,250.40L306.91,250.40L307.31,250.40L307.71,250.40L308.11,250.40L308.52,250.40L308.92,250.40L309.32,250.40L309.72,250.40L310.12,250.40L310.52,250.40L310.92,250.40L311.33,250.40L311.73,250.40L312.13,250.40L312.53,250.40L312.93,250.40L313.33,250.40L313.73,250.40L314.13,250.40L314.54,250.40L314.94,250.40L315.34,250.40L315.74,250.40L316.14,250.40L316.54,250.40L316.94,250.40L317.35,250.40L317.75,250.40L318.15,250.40L318.55,250.39L318.95,250.38L319.35,250.37L319.75,250.34L320.15,250.29L320.56,250.21L320.96,250.06L321.36,249.83L321.76,249.47L322.16,248.92L322.56,248.09L322.96,246.89L323.37,245.22L323.77,242.93L324.17,239.90L324.57,236.03L324.97,231.22L325.37,225.46L325.77,218.79L326.17,211.36L326.58,203.39L326.98,195.24L327.38,187.30L327.78,180.04L328.18,173.91L328.58,169.33L328.98,166.61L329.39,165.95L329.79,167.66L330.19,171.65L330.59,177.56L330.99,184.87L331.39,193.01L331.79,201.40L332.19,209.53L332.60,217.03L333.00,223.35L333.40,228.62L333.80,232.90" fill="none" stroke="#111" stroke-width="0.95"/>
<path d="M345.60,238.03L346.00,236.60L346.40,235.10L346.80,233.90L347.20,232.59L347.60,230.80L348.00,228.74L348.40,226.71L348.80,224.63L349.19,222.52L349.59,220.42L349.99,218.39L350.39,216.45L350.79,214.68L351.19,213.09L351.59,211.75L351.99,210.69L352.39,209.93L352.79,209.50L353.19,209.41L353.59,209.67L353.99,210.22L354.39,211.05L354.79,212.13L355.19,213.45L355.59,214.96L355.99,216.66L356.38,218.49L356.78,220.44L357.18,222.47L357.58,224.54L357.98,226.63L358.38,228.70L358.78,230.74L359.18,232.71L359.58,234.60L359.98,236.39L360.38,238.07L360.78,239.62L361.18,241.05L361.58,242.35L361.98,243.52L362.38,244.57L362.78,245.49L363.18,246.30L363.57,247.00L363.97,247.60L364.37,248.11L364.77,248.55L365.17,248.91L365.57,249.21L365.97,249.46L366.37,249.66L366.77,249.82L367.17,249.95L367.57,250.05L367.97,250.14L368.37,250.20L368.77,250.25L369.17,250.29L369.57,250.32L369.97,250.34L370.37,250.36L370.76,250.37L371.16,250.38L371.56,250.38L371.96,250.39L372.36,250.39L372.76,250.39L373.16,250.40L373.56,250.40L373.96,250.40L374.36,250.40L374.76,250.40L375.16,250.40L375.56,250.40L375.96,250.40L376.36,250.40L376.76,250.40L377.16,250.40L377.56,250.40L377.95,250.40L378.35,250.40L378.75,250.40L379.15,250.40L379.55,250.40L379.95,250.40L380.35,250.40L380.75,250.40L381.15,250.40L381.55,250.40L381.95,250.40L382.35,250.40L382.75,250.40L383.15,250.40L383.55,250.40L383.95,250.40L384.35,250.40L384.75,250.40L385.14,250.40L385.54,250.40L385.94,250.40L386.34,250.40L386.74,250.40L387.14,250.40L387.54,250.40L387.94,250.40L388.34,250.40L388.74,250.40L389.14,250.40L389.54,250.40L389.94,250.40L390.34,250.40L390.74,250.40L391.14,250.40L391.54,250.40L391.94,250.40L392.33,250.40L392.73,250.40L393.13,250.40L393.53,250.40L393.93,250.40L394.33,250.40L394.73,250.40L395.13,250.40L395.53,250.40L395.93,250.40L396.33,250.40L396.73,250.40L397.13,250.40L397.53,250.40L397.93,250.40L398.33,250.40L398.73,250.40L399.13,250.40L399.52,250.40L399.92,250.40L400.32,250.40L400.72,250.40L401.12,250.40L401.52,250.40L401.92,250.40L402.32,250.40L402.72,250.40L403.12,250.40L403.52,250.40L403.92,250.40L404.32,250.40L404.72,250.40L405.12,250.40L405.52,250.40L405.92,250.40L406.32,250.40L406.71,250.40L407.11,250.40L407.51,250.40L407.91,250.40L408.31,250.40L408.71,250.40L409.11,250.40L409.51,250.40L409.91,250.40L410.31,250.40L410.71,250.40L411.11,250.40L411.51,250.40L411.91,250.40L412.31,250.40L412.71,250.40L413.11,250.40L413.51,250.40L413.90,250.40L414.30,250.40L414.70,250.40L415.10,250.40L415.50,250.40L415.90,250.40L416.30,250.40L416.70,250.40L417.10,250.40L417.50,250.40" fill="none" stroke="#111" stroke-width="0.95"/>
<path d="M333.80,232.90L334.21,236.71L334.61,239.98L335.02,242.28L335.43,243.45L335.83,244.18L336.24,244.52L336.65,244.65L337.06,244.56L337.46,244.36L337.87,244.53L338.28,244.89L338.68,244.97L339.09,244.71L339.50,244.51L339.90,244.53L340.31,244.54L340.72,244.63L341.12,244.69L341.53,244.53L341.94,244.27L342.34,243.74L342.75,242.99L343.16,242.32L343.57,241.82L343.97,241.33L344.38,241.23L344.79,241.01L345.19,239.62L345.60,238.03" fill="none" stroke="#0b8a34" stroke-width="0.9"/>
<path d="M320.70,250.16L321.11,249.99L321.52,249.71L321.92,249.27L322.33,248.60L322.74,247.61L323.15,246.18L323.56,244.20L323.97,241.52L324.37,238.01L324.78,233.58L325.19,228.17L325.60,221.78L326.01,214.52L326.42,206.60L326.82,198.33L327.23,190.12L327.64,182.44L328.05,175.77" fill="none" stroke="#22229a" stroke-width="0.8"/>
<path d="M330.68,179.11L331.10,187.03L331.52,195.68L331.94,204.42L332.36,212.75L332.78,220.09L333.20,226.12" fill="none" stroke="#22229a" stroke-width="0.7"/>
<path d="M345.90,237.24L346.30,235.83L346.70,234.27L347.10,232.57L347.50,230.72L347.90,228.75L348.30,226.68L348.70,224.54L349.10,222.37L349.50,220.20L349.90,218.08L350.30,216.05L350.70,214.17L351.10,212.48L351.50,211.03L351.89,209.85L352.29,208.98L352.69,208.44L353.09,208.26L353.49,208.43L353.89,208.93L354.29,209.70L354.69,210.75L355.09,212.04L355.49,213.55L355.89,215.25L356.29,217.10L356.69,219.08L357.09,221.15L357.49,223.27L357.89,225.42L358.29,227.56L358.69,229.67L359.09,231.72L359.49,233.68L359.89,235.55L360.29,237.31L360.69,238.94L361.09,240.45L361.49,241.82L361.89,243.05L362.29,244.16L362.69,245.14L363.08,246.00L363.48,246.74L363.88,247.38L364.28,247.93L364.68,248.40L365.08,248.79L365.48,249.11L365.88,249.37L366.28,249.59L366.68,249.77L367.08,249.91L367.48,250.02L367.88,250.11L368.28,250.18" fill="none" stroke="#a01818" stroke-width="1.05"/>
<line x1="301.2" y1="250.40" x2="302.7" y2="250.40" stroke="#777" stroke-width="0.6"/>
<rect x="298.5" y="249.80" width="1.5" height="1.2" fill="#aaa"/>
<line x1="301.2" y1="229.70" x2="302.7" y2="229.70" stroke="#777" stroke-width="0.6"/>
<rect x="298.5" y="229.10" width="1.5" height="1.2" fill="#aaa"/>
<line x1="301.2" y1="209.00" x2="302.7" y2="209.00" stroke="#777" stroke-width="0.6"/>
<rect x="298.5" y="208.40" width="1.5" height="1.2" fill="#aaa"/>
<line x1="301.2" y1="188.30" x2="302.7" y2="188.30" stroke="#777" stroke-width="0.6"/>
<rect x="298.5" y="187.70" width="1.5" height="1.2" fill="#aaa"/>
<line x1="301.2" y1="167.60" x2="302.7" y2="167.60" stroke="#777" stroke-width="0.6"/>
<rect x="298.5" y="167.00" width="1.5" height="1.2" fill="#aaa"/>
<text x="0" y="0" transform="translate(298.80,206.05) rotate(-90)" font-family="'Liberation Serif', serif" font-size="6.1" text-anchor="middle" fill="#333">Count</text>
<rect x="319.30" y="254.60" width="6.4" height="1.3" fill="#cacaca"/>
<rect x="341.10" y="254.60" width="6.4" height="1.3" fill="#cacaca"/>
<rect x="362.90" y="254.60" width="6.4" height="1.3" fill="#cacaca"/>
<rect x="384.70" y="254.60" width="6.4" height="1.3" fill="#cacaca"/>
<rect x="406.50" y="254.60" width="6.4" height="1.3" fill="#cacaca"/>
<text x="360.80" y="263.80" font-family="'Liberation Serif', serif" font-size="6.6" text-anchor="middle" fill="#333">BL2-A :: PI-A</text>
<text transform="translate(336.30,168.50) scale(1.0)" font-family="'Liberation Sans', sans-serif" font-size="4.50" word-spacing="0.50" fill="#333">&lt;2N: 2.30%</text>
<text transform="translate(336.30,174.15) scale(1.0)" font-family="'Liberation Sans', sans-serif" font-size="4.50" word-spacing="0.50" fill="#333">2N: 43.6%</text>
<text transform="translate(336.30,179.80) scale(1.0)" font-family="'Liberation Sans', sans-serif" font-size="4.50" word-spacing="0.50" fill="#333">S: 9.77%</text>
<text transform="translate(336.30,185.45) scale(1.0)" font-family="'Liberation Sans', sans-serif" font-size="4.50" word-spacing="0.50" fill="#333">4N: 41.5%</text>
<text transform="translate(336.30,191.10) scale(1.0)" font-family="'Liberation Sans', sans-serif" font-size="4.50" word-spacing="0.50" fill="#333">Ratio: 1.88</text>
<text transform="translate(336.30,196.75) scale(1.0)" font-family="'Liberation Sans', sans-serif" font-size="4.50" word-spacing="0.50" fill="#333">&gt;4N: 2.78%</text>
<text transform="translate(359.80,174.15) scale(1.0)" font-family="'Liberation Sans', sans-serif" font-size="4.50" word-spacing="0.50" fill="#333">[μ: 60435, cv: 13.4%]</text>
<text transform="translate(359.80,185.45) scale(1.0)" font-family="'Liberation Sans', sans-serif" font-size="4.50" word-spacing="0.50" fill="#333">[μ: 113563, cv: 14.5%]</text>
<path d="M431.5,250.1V160.6H543.6V250.1" fill="none" stroke="#9a9a9a" stroke-width="0.9"/>
<line x1="431.5" y1="250.1" x2="543.6" y2="250.1" stroke="#3a3a3a" stroke-width="1.2"/>
<path d="M432.50,250.10L432.90,250.10L433.30,250.10L433.69,250.10L434.09,250.10L434.49,250.10L434.89,250.10L435.28,250.10L435.68,250.10L436.08,250.10L436.48,250.10L436.88,250.10L437.27,250.10L437.67,250.10L438.07,250.10L438.47,250.10L438.87,250.10L439.26,250.10L439.66,250.10L440.06,250.10L440.46,250.10L440.85,250.10L441.25,250.10L441.65,250.10L442.05,250.10L442.45,250.10L442.84,250.10L443.24,250.10L443.64,250.10L444.04,250.10L444.43,250.10L444.83,250.10L445.23,250.10L445.63,250.10L446.03,250.09L446.42,250.09L446.82,250.09L447.22,250.08L447.62,250.07L448.02,250.05L448.41,250.03L448.81,250.00L449.21,249.96L449.61,249.90L450.00,249.82L450.40,249.71L450.80,249.56L451.20,249.36L451.60,249.10L451.99,248.76L452.39,248.32L452.79,247.77L453.19,247.07L453.58,246.20L453.98,245.14L454.38,243.84L454.78,242.28L455.18,240.43L455.57,238.26L455.97,235.74L456.37,232.86L456.77,229.61L457.17,225.98L457.56,221.99L457.96,217.65L458.36,213.02L458.76,208.14L459.15,203.09L459.55,197.94L459.95,192.80L460.35,187.77L460.75,182.95L461.14,178.47L461.54,174.44L461.94,170.95L462.34,168.11L462.73,165.99L463.13,164.64L463.53,164.11L463.93,164.38L464.33,165.43L464.72,167.21L465.12,169.68L465.52,172.77L465.92,176.38L466.32,180.43L466.71,184.82L467.11,189.43L467.51,194.17L467.91,198.94L468.30,203.58L468.70,208.26L469.10,212.89L469.10,250.80L432.50,250.80Z" fill="#aeaef6"/>
<path d="M469.10,212.89L469.50,216.92L469.90,220.52L470.30,223.81L470.70,226.75L471.10,229.38L471.50,231.68L471.90,233.86L472.30,235.94L472.70,237.62L473.10,238.74L473.50,239.60L473.90,240.12L474.30,240.43L474.70,240.59L475.10,240.61L475.50,240.77L475.90,241.11L476.30,241.10L476.70,240.28L477.10,239.38L477.50,238.97L477.90,238.49L478.30,238.18L478.70,237.88L479.10,237.08L479.50,235.77L479.90,234.58L480.30,233.84L480.70,233.04L480.70,250.80L469.10,250.80Z" fill="#14d862"/>
<path d="M480.70,233.39L481.10,232.36L481.50,231.27L481.89,230.14L482.29,228.95L482.69,227.71L483.09,226.43L483.49,225.11L483.89,223.75L484.28,222.36L484.68,220.95L485.08,219.51L485.48,218.06L485.88,216.60L486.27,215.14L486.67,213.69L487.07,212.25L487.47,210.84L487.87,209.47L488.27,208.13L488.66,206.84L489.06,205.61L489.46,204.45L489.86,203.37L490.26,202.36L490.66,201.45L491.05,200.63L491.45,199.92L491.85,199.31L492.25,198.82L492.65,198.45L493.04,198.19L493.44,198.06L493.84,198.04L494.24,198.16L494.64,198.43L495.04,198.87L495.43,199.47L495.83,200.23L496.23,201.14L496.63,202.20L497.03,203.38L497.42,204.69L497.82,206.11L498.22,207.63L498.62,209.23L499.02,210.91L499.42,212.64L499.81,214.41L500.21,216.22L500.61,218.04L501.01,219.86L501.41,221.68L501.80,223.47L502.20,225.24L502.60,226.97L503.00,228.65L503.40,230.27L503.80,231.84L504.19,233.34L504.59,234.76L504.99,236.11L505.39,237.39L505.79,238.59L506.18,239.71L506.58,240.75L506.98,241.72L507.38,242.61L507.78,243.43L508.18,244.18L508.57,244.87L508.97,245.49L509.37,246.05L509.77,246.55L510.17,247.01L510.57,247.41L510.96,247.77L511.36,248.09L511.76,248.37L512.16,248.61L512.56,248.83L512.95,249.02L513.35,249.18L513.75,249.32L514.15,249.45L514.55,249.55L514.95,249.64L515.34,249.72L515.74,249.78L516.14,249.83L516.14,250.80L480.70,250.80Z" fill="#f8a8a8"/>
<path d="M432.50,250.10L432.90,250.10L433.30,250.10L433.70,250.10L434.10,250.10L434.50,250.10L434.90,250.10L435.30,250.10L435.70,250.10L436.10,250.10L436.50,250.10L436.90,250.10L437.30,250.10L437.70,250.10L438.10,250.10L438.50,250.10L438.90,250.10L439.30,250.10L439.70,250.10L440.10,250.10L440.50,250.10L440.90,250.10L441.30,250.10L441.70,250.10L442.10,250.10L442.50,250.10L442.90,250.10L443.30,250.10L443.70,250.10L444.10,250.10L444.50,250.10L444.90,250.10L445.30,250.10L445.70,250.10L446.10,250.09L446.50,250.09L446.90,250.08L447.30,250.08L447.70,250.07L448.10,250.05L448.50,250.03L448.90,249.99L449.30,249.95L449.70,249.88L450.10,249.79L450.50,249.67L450.90,249.51L451.30,249.30L451.70,249.02L452.10,248.65L452.50,248.19L452.90,247.59L453.30,246.84L453.70,245.92L454.10,244.78L454.50,243.40L454.90,241.75L455.30,239.79L455.70,237.50L456.10,234.85L456.50,231.84L456.90,228.44L457.30,224.67L457.70,220.53L458.10,216.06L458.50,211.31L458.90,206.34L459.30,201.21L459.70,196.03L460.10,190.88L460.50,185.89L460.90,181.17L461.30,176.82L461.70,172.97L462.10,169.72L462.50,167.15L462.90,165.33L463.30,164.32L463.70,164.13L464.10,164.74L464.50,166.12L464.90,168.22L465.30,170.99L465.70,174.35L466.10,178.19L466.50,182.44L466.90,186.97L467.30,191.68L467.70,196.47L468.10,201.24L468.50,205.87L468.90,210.62L469.30,214.96L469.70,218.77" fill="none" stroke="#111" stroke-width="0.95"/>
<path d="M480.40,233.64L480.80,232.79L481.20,231.75L481.60,230.63L481.99,229.31L482.39,228.05L482.79,226.83L483.19,225.50L483.59,224.12L483.99,222.71L484.39,221.27L484.79,219.80L485.18,218.31L485.58,216.81L485.98,215.30L486.38,213.79L486.78,212.30L487.18,210.82L487.58,209.37L487.98,207.96L488.37,206.59L488.77,205.27L489.17,204.02L489.57,202.84L489.97,201.74L490.37,200.72L490.77,199.81L491.17,198.99L491.56,198.28L491.96,197.68L492.36,197.20L492.76,196.85L493.16,196.61L493.56,196.51L493.96,196.53L494.36,196.68L494.75,197.01L495.15,197.51L495.55,198.17L495.95,199.00L496.35,199.98L496.75,201.11L497.15,202.37L497.54,203.76L497.94,205.25L498.34,206.84L498.74,208.52L499.14,210.26L499.54,212.06L499.94,213.90L500.34,215.77L500.73,217.65L501.13,219.53L501.53,221.40L501.93,223.24L502.33,225.05L502.73,226.82L503.13,228.53L503.53,230.19L503.92,231.78L504.32,233.30L504.72,234.75L505.12,236.12L505.52,237.41L505.92,238.62L506.32,239.75L506.72,240.81L507.11,241.78L507.51,242.67L507.91,243.50L508.31,244.25L508.71,244.93L509.11,245.55L509.51,246.11L509.91,246.61L510.30,247.06L510.70,247.46L511.10,247.82L511.50,248.13L511.90,248.41L512.30,248.65L512.70,248.86L513.09,249.05L513.49,249.21L513.89,249.35L514.29,249.47L514.69,249.57L515.09,249.65L515.49,249.73L515.89,249.79L516.28,249.84L516.68,249.89L517.08,249.93L517.48,249.96L517.88,249.98L518.28,250.01L518.68,250.02L519.08,250.04L519.47,250.05L519.87,250.06L520.27,250.07L520.67,250.07L521.07,250.08L521.47,250.08L521.87,250.09L522.27,250.09L522.66,250.09L523.06,250.09L523.46,250.10L523.86,250.10L524.26,250.10L524.66,250.10L525.06,250.10L525.46,250.10L525.85,250.10L526.25,250.10L526.65,250.10L527.05,250.10L527.45,250.10L527.85,250.10L528.25,250.10L528.64,250.10L529.04,250.10L529.44,250.10L529.84,250.10L530.24,250.10L530.64,250.10L531.04,250.10L531.44,250.10L531.83,250.10L532.23,250.10L532.63,250.10L533.03,250.10L533.43,250.10L533.83,250.10L534.23,250.10L534.63,250.10L535.02,250.10L535.42,250.10L535.82,250.10L536.22,250.10L536.62,250.10L537.02,250.10L537.42,250.10L537.82,250.10L538.21,250.10L538.61,250.10L539.01,250.10L539.41,250.10L539.81,250.10L540.21,250.10L540.61,250.10L541.01,250.10L541.40,250.10L541.80,250.10L542.20,250.10L542.60,250.10" fill="none" stroke="#111" stroke-width="0.95"/>
<path d="M469.70,218.77L470.10,222.18L470.49,225.27L470.89,228.03L471.29,230.49L471.68,232.61L472.08,234.82L472.47,236.75L472.87,238.13L473.27,239.13L473.66,239.84L474.06,240.27L474.46,240.51L474.85,240.62L475.25,240.58L475.64,240.91L476.04,241.21L476.44,240.83L476.83,239.99L477.23,239.25L477.63,238.83L478.02,238.34L478.42,238.10L478.81,237.78L479.21,236.72L479.61,235.41L480.00,234.39L480.40,233.64" fill="none" stroke="#0b8a34" stroke-width="0.9"/>
<path d="M450.10,249.79L450.50,249.68L450.89,249.52L451.29,249.31L451.69,249.03L452.08,248.67L452.48,248.21L452.88,247.63L453.27,246.90L453.67,246.00L454.07,244.89L454.46,243.54L454.86,241.93L455.26,240.02L455.65,237.79L456.05,235.22L456.44,232.27L456.84,228.96L457.24,225.27L457.63,221.23L458.03,216.86L458.43,212.19L458.82,207.29L459.22,202.24L459.62,197.10L460.01,191.98L460.41,186.99L460.81,182.24L461.20,177.83L461.60,173.88" fill="none" stroke="#22229a" stroke-width="0.8"/>
<path d="M466.06,177.79L466.44,181.78L466.82,186.04L467.20,190.49L467.58,195.03L467.96,199.58L468.34,204.00L468.72,208.47L469.10,212.89" fill="none" stroke="#22229a" stroke-width="0.7"/>
<path d="M480.70,233.39L481.10,232.36L481.50,231.27L481.89,230.14L482.29,228.95L482.69,227.71L483.09,226.43L483.49,225.11L483.89,223.75L484.28,222.36L484.68,220.95L485.08,219.51L485.48,218.06L485.88,216.60L486.27,215.14L486.67,213.69L487.07,212.25L487.47,210.84L487.87,209.47L488.27,208.13L488.66,206.84L489.06,205.61L489.46,204.45L489.86,203.37L490.26,202.36L490.66,201.45L491.05,200.63L491.45,199.92L491.85,199.31L492.25,198.82L492.65,198.45L493.04,198.19L493.44,198.06L493.84,198.04L494.24,198.16L494.64,198.43L495.04,198.87L495.43,199.47L495.83,200.23L496.23,201.14L496.63,202.20L497.03,203.38L497.42,204.69L497.82,206.11L498.22,207.63L498.62,209.23L499.02,210.91L499.42,212.64L499.81,214.41L500.21,216.22L500.61,218.04L501.01,219.86L501.41,221.68L501.80,223.47L502.20,225.24L502.60,226.97L503.00,228.65L503.40,230.27L503.80,231.84L504.19,233.34L504.59,234.76L504.99,236.11L505.39,237.39L505.79,238.59L506.18,239.71L506.58,240.75L506.98,241.72L507.38,242.61L507.78,243.43L508.18,244.18L508.57,244.87L508.97,245.49L509.37,246.05L509.77,246.55L510.17,247.01L510.57,247.41L510.96,247.77L511.36,248.09L511.76,248.37L512.16,248.61L512.56,248.83L512.95,249.02L513.35,249.18L513.75,249.32L514.15,249.45L514.55,249.55L514.95,249.64L515.34,249.72L515.74,249.78L516.14,249.83" fill="none" stroke="#a01818" stroke-width="1.05"/>
<line x1="430.0" y1="250.10" x2="431.5" y2="250.10" stroke="#777" stroke-width="0.6"/>
<rect x="427.3" y="249.50" width="1.5" height="1.2" fill="#aaa"/>
<line x1="430.0" y1="227.60" x2="431.5" y2="227.60" stroke="#777" stroke-width="0.6"/>
<rect x="427.3" y="227.00" width="1.5" height="1.2" fill="#aaa"/>
<line x1="430.0" y1="205.10" x2="431.5" y2="205.10" stroke="#777" stroke-width="0.6"/>
<rect x="427.3" y="204.50" width="1.5" height="1.2" fill="#aaa"/>
<line x1="430.0" y1="182.60" x2="431.5" y2="182.60" stroke="#777" stroke-width="0.6"/>
<rect x="427.3" y="182.00" width="1.5" height="1.2" fill="#aaa"/>
<text x="0" y="0" transform="translate(427.60,205.95) rotate(-90)" font-family="'Liberation Serif', serif" font-size="6.1" text-anchor="middle" fill="#333">Count</text>
<rect x="448.10" y="254.30" width="6.4" height="1.3" fill="#cacaca"/>
<rect x="469.90" y="254.30" width="6.4" height="1.3" fill="#cacaca"/>
<rect x="491.70" y="254.30" width="6.4" height="1.3" fill="#cacaca"/>
<rect x="513.50" y="254.30" width="6.4" height="1.3" fill="#cacaca"/>
<rect x="535.30" y="254.30" width="6.4" height="1.3" fill="#cacaca"/>
<text x="487.75" y="263.50" font-family="'Liberation Serif', serif" font-size="6.6" text-anchor="middle" fill="#333">BL2-A :: PI-A</text>
<text transform="translate(463.40,168.50) scale(1.0)" font-family="'Liberation Sans', sans-serif" font-size="4.50" word-spacing="0.50" fill="#333">&lt;2N: 3.67%</text>
<text transform="translate(463.40,174.15) scale(1.0)" font-family="'Liberation Sans', sans-serif" font-size="4.50" word-spacing="0.50" fill="#333">2N: 38.4%</text>
<text transform="translate(463.40,179.80) scale(1.0)" font-family="'Liberation Sans', sans-serif" font-size="4.50" word-spacing="0.50" fill="#333">S: 9.61%</text>
<text transform="translate(463.40,185.45) scale(1.0)" font-family="'Liberation Sans', sans-serif" font-size="4.50" word-spacing="0.50" fill="#333">4N: 47.0%</text>
<text transform="translate(463.40,191.10) scale(1.0)" font-family="'Liberation Sans', sans-serif" font-size="4.50" word-spacing="0.50" fill="#333">Ratio: 1.85</text>
<text transform="translate(463.40,196.75) scale(1.0)" font-family="'Liberation Sans', sans-serif" font-size="4.50" word-spacing="0.50" fill="#333">&gt;4N: 3.23%</text>
<text transform="translate(486.90,174.15) scale(1.0)" font-family="'Liberation Sans', sans-serif" font-size="4.50" word-spacing="0.50" fill="#333">[μ: 76585, cv: 16.8%]</text>
<text transform="translate(486.90,185.45) scale(1.0)" font-family="'Liberation Sans', sans-serif" font-size="4.50" word-spacing="0.50" fill="#333">[μ: 141761, cv: 18.2%]</text>
<line x1="85.85" y1="366.71" x2="85.85" y2="364.79" stroke="#111" stroke-width="1"/>
<line x1="84.15" y1="364.79" x2="87.55" y2="364.79" stroke="#111" stroke-width="1.4"/>
<rect x="82.00" y="366.71" width="7.70" height="58.19" fill="#f63539" stroke="#111" stroke-width="0.9"/>
<line x1="96.95" y1="365.43" x2="96.95" y2="364.53" stroke="#111" stroke-width="1"/>
<line x1="95.25" y1="364.53" x2="98.65" y2="364.53" stroke="#111" stroke-width="1.4"/>
<rect x="93.10" y="365.43" width="7.70" height="59.47" fill="#fca2a2" stroke="#111" stroke-width="0.9"/>
<line x1="108.05" y1="384.36" x2="108.05" y2="383.33" stroke="#111" stroke-width="1"/>
<line x1="106.35" y1="383.33" x2="109.75" y2="383.33" stroke="#111" stroke-width="1.4"/>
<rect x="104.20" y="384.36" width="7.70" height="40.54" fill="#fde1e1" stroke="#111" stroke-width="0.9"/>
<path d="M108.05,377.58L108.05,381.28M106.45,378.51L109.65,380.36M109.65,378.51L106.45,380.36" stroke="#111" stroke-width="1.0" fill="none"/>
<line x1="119.15" y1="394.20" x2="119.15" y2="392.67" stroke="#111" stroke-width="1"/>
<line x1="117.45" y1="392.67" x2="120.85" y2="392.67" stroke="#111" stroke-width="1.4"/>
<rect x="115.30" y="394.20" width="7.70" height="30.70" fill="#c5c5fb" stroke="#111" stroke-width="0.9"/>
<path d="M117.10,386.92L117.10,390.62M115.50,387.84L118.70,389.69M118.70,387.84L115.50,389.69" stroke="#111" stroke-width="1.0" fill="none"/>
<path d="M121.20,386.92L121.20,390.62M119.60,387.84L122.80,389.69M122.80,387.84L119.60,389.69" stroke="#111" stroke-width="1.0" fill="none"/>
<line x1="137.05" y1="400.60" x2="137.05" y2="400.09" stroke="#111" stroke-width="1"/>
<line x1="135.35" y1="400.09" x2="138.75" y2="400.09" stroke="#111" stroke-width="1.4"/>
<rect x="133.20" y="400.60" width="7.70" height="24.30" fill="#f63539" stroke="#111" stroke-width="0.9"/>
<line x1="148.15" y1="398.04" x2="148.15" y2="395.48" stroke="#111" stroke-width="1"/>
<line x1="146.45" y1="395.48" x2="149.85" y2="395.48" stroke="#111" stroke-width="1.4"/>
<rect x="144.30" y="398.04" width="7.70" height="26.86" fill="#fca2a2" stroke="#111" stroke-width="0.9"/>
<line x1="159.25" y1="395.99" x2="159.25" y2="394.97" stroke="#111" stroke-width="1"/>
<line x1="157.55" y1="394.97" x2="160.95" y2="394.97" stroke="#111" stroke-width="1.4"/>
<rect x="155.40" y="395.99" width="7.70" height="28.91" fill="#fde1e1" stroke="#111" stroke-width="0.9"/>
<line x1="170.35" y1="399.96" x2="170.35" y2="399.32" stroke="#111" stroke-width="1"/>
<line x1="168.65" y1="399.32" x2="172.05" y2="399.32" stroke="#111" stroke-width="1.4"/>
<rect x="166.50" y="399.96" width="7.70" height="24.94" fill="#c5c5fb" stroke="#111" stroke-width="0.9"/>
<line x1="188.45" y1="384.23" x2="188.45" y2="383.46" stroke="#111" stroke-width="1"/>
<line x1="186.75" y1="383.46" x2="190.15" y2="383.46" stroke="#111" stroke-width="1.4"/>
<rect x="184.60" y="384.23" width="7.70" height="40.67" fill="#f63539" stroke="#111" stroke-width="0.9"/>
<line x1="199.55" y1="388.83" x2="199.55" y2="387.81" stroke="#111" stroke-width="1"/>
<line x1="197.85" y1="387.81" x2="201.25" y2="387.81" stroke="#111" stroke-width="1.4"/>
<rect x="195.70" y="388.83" width="7.70" height="36.07" fill="#fca2a2" stroke="#111" stroke-width="0.9"/>
<line x1="210.65" y1="365.04" x2="210.65" y2="364.28" stroke="#111" stroke-width="1"/>
<line x1="208.95" y1="364.28" x2="212.35" y2="364.28" stroke="#111" stroke-width="1.4"/>
<rect x="206.80" y="365.04" width="7.70" height="59.86" fill="#fde1e1" stroke="#111" stroke-width="0.9"/>
<path d="M210.65,358.53L210.65,362.23M209.05,359.45L212.25,361.30M212.25,359.45L209.05,361.30" stroke="#111" stroke-width="1.0" fill="none"/>
<line x1="221.75" y1="353.66" x2="221.75" y2="351.10" stroke="#111" stroke-width="1"/>
<line x1="220.05" y1="351.10" x2="223.45" y2="351.10" stroke="#111" stroke-width="1.4"/>
<rect x="217.90" y="353.66" width="7.70" height="71.24" fill="#c5c5fb" stroke="#111" stroke-width="0.9"/>
<path d="M219.70,345.35L219.70,349.05M218.10,346.28L221.30,348.13M221.30,346.28L218.10,348.13" stroke="#111" stroke-width="1.0" fill="none"/>
<path d="M223.80,345.35L223.80,349.05M222.20,346.28L225.40,348.13M225.40,346.28L222.20,348.13" stroke="#111" stroke-width="1.0" fill="none"/>
<line x1="76.20" y1="322.58" x2="76.20" y2="425.40" stroke="#111" stroke-width="1.1"/>
<line x1="75.70" y1="424.90" x2="230.80" y2="424.90" stroke="#111" stroke-width="1.1"/>
<line x1="72.70" y1="424.90" x2="76.20" y2="424.90" stroke="#111" stroke-width="1"/>
<text x="72.40" y="427.50" font-family="'Liberation Sans', sans-serif" font-size="7.3" font-weight="bold" text-anchor="end" fill="#111" stroke="#111" stroke-width="0.35" >0</text>
<line x1="72.70" y1="399.32" x2="76.20" y2="399.32" stroke="#111" stroke-width="1"/>
<text x="72.40" y="401.92" font-family="'Liberation Sans', sans-serif" font-size="7.3" font-weight="bold" text-anchor="end" fill="#111" stroke="#111" stroke-width="0.35" >20</text>
<line x1="72.70" y1="373.74" x2="76.20" y2="373.74" stroke="#111" stroke-width="1"/>
<text x="72.40" y="376.34" font-family="'Liberation Sans', sans-serif" font-size="7.3" font-weight="bold" text-anchor="end" fill="#111" stroke="#111" stroke-width="0.35" >40</text>
<line x1="72.70" y1="348.16" x2="76.20" y2="348.16" stroke="#111" stroke-width="1"/>
<text x="72.40" y="350.76" font-family="'Liberation Sans', sans-serif" font-size="7.3" font-weight="bold" text-anchor="end" fill="#111" stroke="#111" stroke-width="0.35" >60</text>
<line x1="72.70" y1="322.58" x2="76.20" y2="322.58" stroke="#111" stroke-width="1"/>
<text x="72.40" y="325.18" font-family="'Liberation Sans', sans-serif" font-size="7.3" font-weight="bold" text-anchor="end" fill="#111" stroke="#111" stroke-width="0.35" >80</text>
<line x1="102.30" y1="424.90" x2="102.30" y2="428.10" stroke="#111" stroke-width="1"/>
<text x="102.30" y="438.50" font-family="'Liberation Serif', serif" font-size="8.8" font-weight="bold" text-anchor="middle" fill="#111" stroke="#111" stroke-width="0.05" >G0/G1</text>
<line x1="153.30" y1="424.90" x2="153.30" y2="428.10" stroke="#111" stroke-width="1"/>
<text x="153.30" y="438.50" font-family="'Liberation Serif', serif" font-size="8.8" font-weight="bold" text-anchor="middle" fill="#111" stroke="#111" stroke-width="0.05" >S</text>
<line x1="204.00" y1="424.90" x2="204.00" y2="428.10" stroke="#111" stroke-width="1"/>
<text x="204.00" y="438.50" font-family="'Liberation Serif', serif" font-size="8.8" font-weight="bold" text-anchor="middle" fill="#111" stroke="#111" stroke-width="0.05" >G2/M</text>
<text x="0" y="0" transform="translate(58.10,374.00) rotate(-90)" font-family="'Liberation Sans', sans-serif" font-size="8.4" font-weight="bold" text-anchor="middle" fill="#111" stroke="#111" stroke-width="0.3">Cell rate (%)</text>
<text x="17.40" y="302.20" font-family="'Liberation Serif', serif" font-weight="bold" fill="#111" stroke="#111" stroke-width="0.75"><tspan font-size="15.5" dy="-1.9" dx="-0.5">(</tspan><tspan font-size="17.2" dy="1.9" dx="0.2">B</tspan><tspan font-size="15.5" dy="-1.9" dx="0.7">)</tspan></text>
<text x="138.70" y="310.10" font-family="'Liberation Sans', sans-serif" font-size="11.2" font-weight="bold" text-anchor="start" fill="#111" stroke="#111" stroke-width="0.2" >Huh-7</text>
<rect x="199.20" y="301.70" width="10.9" height="6.6" fill="#f63539" stroke="#111" stroke-width="1.0"/>
<text x="216.30" y="308.30" font-family="'Liberation Serif', serif" font-size="9.0" font-weight="bold" text-anchor="start" fill="#111" stroke="#111" stroke-width="0.2" >DMSO</text>
<rect x="199.20" y="311.10" width="10.9" height="6.6" fill="#fca2a2" stroke="#111" stroke-width="1.0"/>
<text x="218.20" y="317.70" font-family="'Liberation Serif', serif" font-size="9.0" font-weight="bold" text-anchor="start" fill="#111" stroke="#111" stroke-width="0.2" >5 μM PLB</text>
<rect x="199.20" y="320.60" width="10.9" height="6.6" fill="#fde1e1" stroke="#111" stroke-width="1.0"/>
<text x="216.30" y="327.20" font-family="'Liberation Serif', serif" font-size="9.0" font-weight="bold" text-anchor="start" fill="#111" stroke="#111" stroke-width="0.2" >10 μM PLB</text>
<rect x="199.20" y="329.80" width="10.9" height="6.6" fill="#c5c5fb" stroke="#111" stroke-width="1.0"/>
<text x="216.30" y="336.40" font-family="'Liberation Serif', serif" font-size="9.0" font-weight="bold" text-anchor="start" fill="#111" stroke="#111" stroke-width="0.2" >15 μM PLB</text>
<line x1="363.45" y1="349.74" x2="363.45" y2="347.83" stroke="#111" stroke-width="1"/>
<line x1="361.75" y1="347.83" x2="365.15" y2="347.83" stroke="#111" stroke-width="1.4"/>
<rect x="359.60" y="349.74" width="7.70" height="73.66" fill="#f63539" stroke="#111" stroke-width="0.9"/>
<line x1="374.45" y1="351.64" x2="374.45" y2="344.02" stroke="#111" stroke-width="1"/>
<line x1="372.75" y1="344.02" x2="376.15" y2="344.02" stroke="#111" stroke-width="1.4"/>
<rect x="370.60" y="351.64" width="7.70" height="71.75" fill="#fca2a2" stroke="#111" stroke-width="0.9"/>
<line x1="385.45" y1="377.43" x2="385.45" y2="373.87" stroke="#111" stroke-width="1"/>
<line x1="383.75" y1="373.87" x2="387.15" y2="373.87" stroke="#111" stroke-width="1.4"/>
<rect x="381.60" y="377.43" width="7.70" height="45.97" fill="#fde1e1" stroke="#111" stroke-width="0.9"/>
<path d="M385.45,366.82L385.45,370.32M383.93,367.69L386.97,369.44M386.97,367.69L383.93,369.44" stroke="#222" stroke-width="0.75" fill="none"/>
<line x1="396.45" y1="375.65" x2="396.45" y2="374.38" stroke="#111" stroke-width="1"/>
<line x1="394.75" y1="374.38" x2="398.15" y2="374.38" stroke="#111" stroke-width="1.4"/>
<rect x="392.60" y="375.65" width="7.70" height="47.75" fill="#c5c5fb" stroke="#111" stroke-width="0.9"/>
<path d="M396.45,367.33L396.45,370.83M394.93,368.20L397.97,369.95M397.97,368.20L394.93,369.95" stroke="#222" stroke-width="0.75" fill="none"/>
<line x1="414.85" y1="407.52" x2="414.85" y2="405.62" stroke="#111" stroke-width="1"/>
<line x1="413.15" y1="405.62" x2="416.55" y2="405.62" stroke="#111" stroke-width="1.4"/>
<rect x="411.00" y="407.52" width="7.70" height="15.88" fill="#f63539" stroke="#111" stroke-width="0.9"/>
<line x1="425.85" y1="405.24" x2="425.85" y2="402.44" stroke="#111" stroke-width="1"/>
<line x1="424.15" y1="402.44" x2="427.55" y2="402.44" stroke="#111" stroke-width="1.4"/>
<rect x="422.00" y="405.24" width="7.70" height="18.16" fill="#fca2a2" stroke="#111" stroke-width="0.9"/>
<line x1="436.85" y1="410.06" x2="436.85" y2="407.52" stroke="#111" stroke-width="1"/>
<line x1="435.15" y1="407.52" x2="438.55" y2="407.52" stroke="#111" stroke-width="1.4"/>
<rect x="433.00" y="410.06" width="7.70" height="13.33" fill="#fde1e1" stroke="#111" stroke-width="0.9"/>
<line x1="447.85" y1="407.02" x2="447.85" y2="403.08" stroke="#111" stroke-width="1"/>
<line x1="446.15" y1="403.08" x2="449.55" y2="403.08" stroke="#111" stroke-width="1.4"/>
<rect x="444.00" y="407.02" width="7.70" height="16.38" fill="#c5c5fb" stroke="#111" stroke-width="0.9"/>
<line x1="466.35" y1="390.76" x2="466.35" y2="385.30" stroke="#111" stroke-width="1"/>
<line x1="464.65" y1="385.30" x2="468.05" y2="385.30" stroke="#111" stroke-width="1.4"/>
<rect x="462.50" y="390.76" width="7.70" height="32.64" fill="#f63539" stroke="#111" stroke-width="0.9"/>
<line x1="477.35" y1="393.43" x2="477.35" y2="386.95" stroke="#111" stroke-width="1"/>
<line x1="475.65" y1="386.95" x2="479.05" y2="386.95" stroke="#111" stroke-width="1.4"/>
<rect x="473.50" y="393.43" width="7.70" height="29.97" fill="#fca2a2" stroke="#111" stroke-width="0.9"/>
<line x1="488.35" y1="364.60" x2="488.35" y2="362.06" stroke="#111" stroke-width="1"/>
<line x1="486.65" y1="362.06" x2="490.05" y2="362.06" stroke="#111" stroke-width="1.4"/>
<rect x="484.50" y="364.60" width="7.70" height="58.80" fill="#fde1e1" stroke="#111" stroke-width="0.9"/>
<path d="M488.35,355.01L488.35,358.51M486.83,355.88L489.87,357.63M489.87,355.88L486.83,357.63" stroke="#222" stroke-width="0.75" fill="none"/>
<line x1="499.35" y1="365.87" x2="499.35" y2="363.84" stroke="#111" stroke-width="1"/>
<line x1="497.65" y1="363.84" x2="501.05" y2="363.84" stroke="#111" stroke-width="1.4"/>
<rect x="495.50" y="365.87" width="7.70" height="57.53" fill="#c5c5fb" stroke="#111" stroke-width="0.9"/>
<path d="M499.35,356.79L499.35,360.29M497.83,357.66L500.87,359.41M500.87,357.66L497.83,359.41" stroke="#222" stroke-width="0.75" fill="none"/>
<line x1="353.60" y1="321.80" x2="353.60" y2="423.90" stroke="#111" stroke-width="1.1"/>
<line x1="353.10" y1="423.40" x2="507.00" y2="423.40" stroke="#111" stroke-width="1.1"/>
<line x1="350.10" y1="423.40" x2="353.60" y2="423.40" stroke="#111" stroke-width="1"/>
<text x="350.00" y="426.00" font-family="'Liberation Serif', serif" font-size="7.6" font-weight="bold" text-anchor="end" fill="#111" stroke="#111" stroke-width="0.2" >0</text>
<line x1="350.10" y1="398.00" x2="353.60" y2="398.00" stroke="#111" stroke-width="1"/>
<text x="350.00" y="400.60" font-family="'Liberation Serif', serif" font-size="7.6" font-weight="bold" text-anchor="end" fill="#111" stroke="#111" stroke-width="0.2" >20</text>
<line x1="350.10" y1="372.60" x2="353.60" y2="372.60" stroke="#111" stroke-width="1"/>
<text x="350.00" y="375.20" font-family="'Liberation Serif', serif" font-size="7.6" font-weight="bold" text-anchor="end" fill="#111" stroke="#111" stroke-width="0.2" >40</text>
<line x1="350.10" y1="347.20" x2="353.60" y2="347.20" stroke="#111" stroke-width="1"/>
<text x="350.00" y="349.80" font-family="'Liberation Serif', serif" font-size="7.6" font-weight="bold" text-anchor="end" fill="#111" stroke="#111" stroke-width="0.2" >60</text>
<line x1="350.10" y1="321.80" x2="353.60" y2="321.80" stroke="#111" stroke-width="1"/>
<text x="350.00" y="324.40" font-family="'Liberation Serif', serif" font-size="7.6" font-weight="bold" text-anchor="end" fill="#111" stroke="#111" stroke-width="0.2" >80</text>
<line x1="380.00" y1="423.40" x2="380.00" y2="426.60" stroke="#111" stroke-width="1"/>
<text x="380.00" y="437.00" font-family="'Liberation Serif', serif" font-size="8.8" font-weight="bold" text-anchor="middle" fill="#111" stroke="#111" stroke-width="0.05" >G0/G1</text>
<line x1="431.00" y1="423.40" x2="431.00" y2="426.60" stroke="#111" stroke-width="1"/>
<text x="431.00" y="437.00" font-family="'Liberation Serif', serif" font-size="8.8" font-weight="bold" text-anchor="middle" fill="#111" stroke="#111" stroke-width="0.05" >S</text>
<line x1="482.80" y1="423.40" x2="482.80" y2="426.60" stroke="#111" stroke-width="1"/>
<text x="482.80" y="437.00" font-family="'Liberation Serif', serif" font-size="8.8" font-weight="bold" text-anchor="middle" fill="#111" stroke="#111" stroke-width="0.05" >G2/M</text>
<text x="0" y="0" transform="translate(335.80,371.40) rotate(-90)" font-family="'Liberation Serif', serif" font-size="8.6" font-weight="bold" text-anchor="middle" fill="#111" stroke="#111" stroke-width="0.3">Cell rate (%)</text>
<text x="299.00" y="298.60" font-family="'Liberation Serif', serif" font-weight="bold" fill="#111" stroke="#111" stroke-width="0.75"><tspan font-size="15.5" dy="-1.9" dx="-0.5">(</tspan><tspan font-size="17.2" dy="1.9" dx="0.2">C</tspan><tspan font-size="15.5" dy="-1.9" dx="0.7">)</tspan></text>
<text x="410.90" y="309.30" font-family="'Liberation Serif', serif" font-size="12" font-weight="bold" text-anchor="start" fill="#111" stroke="#111" stroke-width="0.25" >Hep-G2</text>
<rect x="476.60" y="302.80" width="10.9" height="6.6" fill="#f63539" stroke="#111" stroke-width="1.0"/>
<text x="494.30" y="309.40" font-family="'Liberation Serif', serif" font-size="8.8" font-weight="bold" text-anchor="start" fill="#111" stroke="#111" stroke-width="0.2" >DMSO</text>
<rect x="476.60" y="312.40" width="10.9" height="6.6" fill="#fca2a2" stroke="#111" stroke-width="1.0"/>
<text x="494.30" y="319.00" font-family="'Liberation Serif', serif" font-size="8.8" font-weight="bold" text-anchor="start" fill="#111" stroke="#111" stroke-width="0.2" >5 μM PLB</text>
<rect x="476.60" y="321.40" width="10.9" height="6.6" fill="#fde1e1" stroke="#111" stroke-width="1.0"/>
<text x="494.30" y="328.00" font-family="'Liberation Serif', serif" font-size="8.8" font-weight="bold" text-anchor="start" fill="#111" stroke="#111" stroke-width="0.2" >10 μM PLB</text>
<rect x="476.60" y="330.90" width="10.9" height="6.6" fill="#c5c5fb" stroke="#111" stroke-width="1.0"/>
<text x="494.30" y="337.50" font-family="'Liberation Serif', serif" font-size="8.8" font-weight="bold" text-anchor="start" fill="#111" stroke="#111" stroke-width="0.2" >15 μM PLB</text>
</g>
</svg>
</body></html>
